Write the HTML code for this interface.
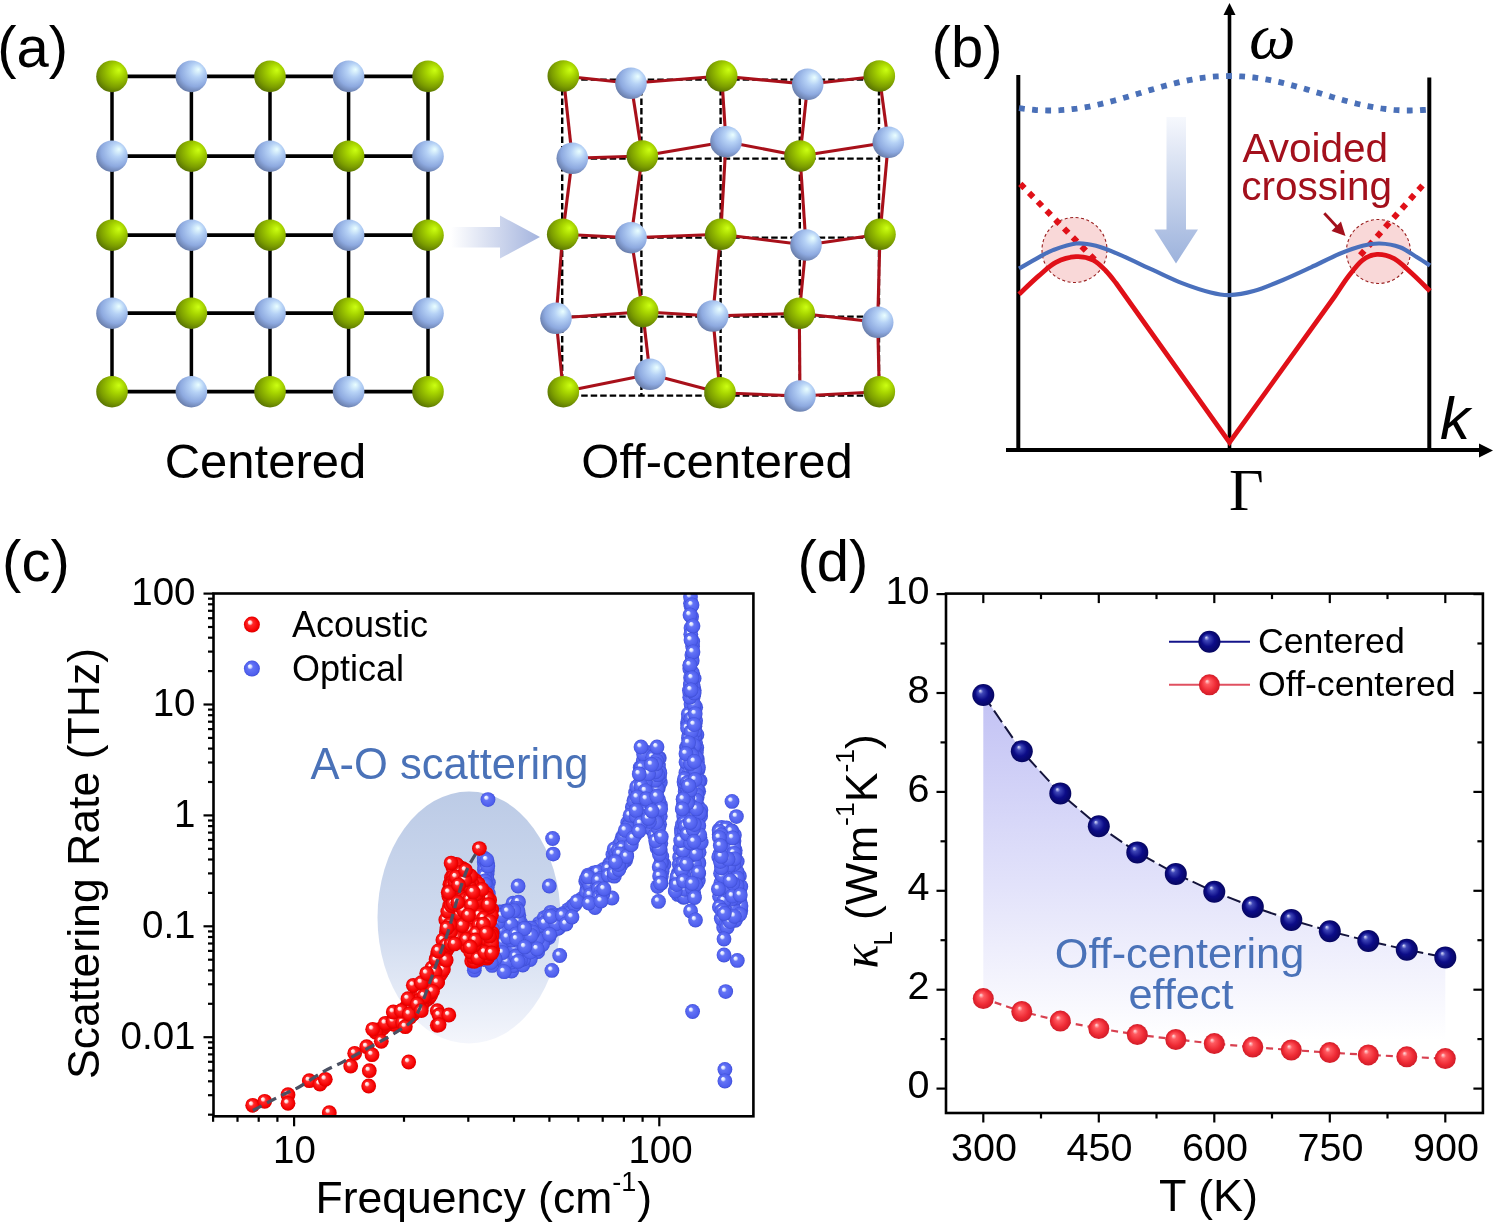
<!DOCTYPE html>
<html><head><meta charset="utf-8"><title>Figure</title>
<style>html,body{margin:0;padding:0;background:#fff;}body{width:1500px;height:1231px;overflow:hidden;}svg{display:block;}</style>
</head><body>
<svg width="1500" height="1231" viewBox="0 0 1500 1231">
<rect width="1500" height="1231" fill="#fff"/>
<defs>
<radialGradient id="gG" cx="0.58" cy="0.38" r="0.72" fx="0.72" fy="0.3">
 <stop offset="0" stop-color="#ccff12"/><stop offset="0.3" stop-color="#a8d600"/><stop offset="0.68" stop-color="#7c9e00"/><stop offset="1" stop-color="#4a6204"/></radialGradient>
<radialGradient id="gB" cx="0.58" cy="0.38" r="0.72" fx="0.72" fy="0.28">
 <stop offset="0" stop-color="#eaffff"/><stop offset="0.3" stop-color="#b6d2f6"/><stop offset="0.66" stop-color="#8eaae0"/><stop offset="1" stop-color="#5a6c96"/></radialGradient>
<radialGradient id="gR" cx="0.5" cy="0.5" r="0.5" fx="0.34" fy="0.32">
 <stop offset="0" stop-color="#ffffff"/><stop offset="0.2" stop-color="#ffd4d4"/><stop offset="0.36" stop-color="#ff2a2a"/><stop offset="0.85" stop-color="#f40000"/><stop offset="1" stop-color="#d80000"/></radialGradient>
<radialGradient id="gU" cx="0.5" cy="0.5" r="0.5" fx="0.34" fy="0.32">
 <stop offset="0" stop-color="#ffffff"/><stop offset="0.2" stop-color="#d8e0ff"/><stop offset="0.36" stop-color="#6474f6"/><stop offset="0.85" stop-color="#4f5fee"/><stop offset="1" stop-color="#3e4ed4"/></radialGradient>
<radialGradient id="gN" cx="0.5" cy="0.5" r="0.5" fx="0.35" fy="0.3">
 <stop offset="0" stop-color="#e0e4ff"/><stop offset="0.22" stop-color="#4048b8"/><stop offset="0.6" stop-color="#0c0c88"/><stop offset="1" stop-color="#060660"/></radialGradient>
<radialGradient id="gP" cx="0.5" cy="0.5" r="0.5" fx="0.38" fy="0.32">
 <stop offset="0" stop-color="#ffe0e0"/><stop offset="0.25" stop-color="#ff5a60"/><stop offset="0.7" stop-color="#ee2a34"/><stop offset="1" stop-color="#d01c28"/></radialGradient>
<linearGradient id="gArrowR" x1="0" y1="0" x2="1" y2="0">
 <stop offset="0" stop-color="#ffffff"/><stop offset="1" stop-color="#a4b4de"/></linearGradient>
<linearGradient id="gArrowD" x1="0" y1="0" x2="0" y2="1">
 <stop offset="0" stop-color="#f6f8fd"/><stop offset="1" stop-color="#9cb2dc"/></linearGradient>
<linearGradient id="gEll" x1="0" y1="0" x2="0" y2="1">
 <stop offset="0" stop-color="#bccbe6"/><stop offset="0.55" stop-color="#d0dbef"/><stop offset="1" stop-color="#f4f6fc"/></linearGradient>
<linearGradient id="gFill" gradientUnits="userSpaceOnUse" x1="0" y1="695" x2="0" y2="1040">
 <stop offset="0" stop-color="#c2c2f4"/><stop offset="0.55" stop-color="#e2e2fa"/><stop offset="1" stop-color="#ffffff"/></linearGradient>
</defs>
<text x="-2.8" y="67.3" font-size="58" fill="#000" text-anchor="start" font-family="'Liberation Sans', Arial, sans-serif" >(a)</text>
<line x1="112" y1="76.4" x2="428" y2="76.4" stroke="#000" stroke-width="3.7"/>
<line x1="112" y1="156.2" x2="428" y2="156.2" stroke="#000" stroke-width="3.7"/>
<line x1="112" y1="235.2" x2="428" y2="235.2" stroke="#000" stroke-width="3.7"/>
<line x1="112" y1="313.2" x2="428" y2="313.2" stroke="#000" stroke-width="3.7"/>
<line x1="112" y1="391.7" x2="428" y2="391.7" stroke="#000" stroke-width="3.7"/>
<line x1="112" y1="76.4" x2="112" y2="391.7" stroke="#000" stroke-width="3.5"/>
<line x1="191.4" y1="76.4" x2="191.4" y2="391.7" stroke="#000" stroke-width="3.5"/>
<line x1="270" y1="76.4" x2="270" y2="391.7" stroke="#000" stroke-width="3.5"/>
<line x1="348.6" y1="76.4" x2="348.6" y2="391.7" stroke="#000" stroke-width="3.5"/>
<line x1="428" y1="76.4" x2="428" y2="391.7" stroke="#000" stroke-width="3.5"/>
<circle cx="112" cy="76.4" r="15.8" fill="url(#gG)"/>
<circle cx="191.4" cy="76.4" r="15.8" fill="url(#gB)"/>
<circle cx="270" cy="76.4" r="15.8" fill="url(#gG)"/>
<circle cx="348.6" cy="76.4" r="15.8" fill="url(#gB)"/>
<circle cx="428" cy="76.4" r="15.8" fill="url(#gG)"/>
<circle cx="112" cy="156.2" r="15.8" fill="url(#gB)"/>
<circle cx="191.4" cy="156.2" r="15.8" fill="url(#gG)"/>
<circle cx="270" cy="156.2" r="15.8" fill="url(#gB)"/>
<circle cx="348.6" cy="156.2" r="15.8" fill="url(#gG)"/>
<circle cx="428" cy="156.2" r="15.8" fill="url(#gB)"/>
<circle cx="112" cy="235.2" r="15.8" fill="url(#gG)"/>
<circle cx="191.4" cy="235.2" r="15.8" fill="url(#gB)"/>
<circle cx="270" cy="235.2" r="15.8" fill="url(#gG)"/>
<circle cx="348.6" cy="235.2" r="15.8" fill="url(#gB)"/>
<circle cx="428" cy="235.2" r="15.8" fill="url(#gG)"/>
<circle cx="112" cy="313.2" r="15.8" fill="url(#gB)"/>
<circle cx="191.4" cy="313.2" r="15.8" fill="url(#gG)"/>
<circle cx="270" cy="313.2" r="15.8" fill="url(#gB)"/>
<circle cx="348.6" cy="313.2" r="15.8" fill="url(#gG)"/>
<circle cx="428" cy="313.2" r="15.8" fill="url(#gB)"/>
<circle cx="112" cy="391.7" r="15.8" fill="url(#gG)"/>
<circle cx="191.4" cy="391.7" r="15.8" fill="url(#gB)"/>
<circle cx="270" cy="391.7" r="15.8" fill="url(#gG)"/>
<circle cx="348.6" cy="391.7" r="15.8" fill="url(#gB)"/>
<circle cx="428" cy="391.7" r="15.8" fill="url(#gG)"/>
<text x="265.5" y="477.5" font-size="49" fill="#000" text-anchor="middle" font-family="'Liberation Sans', Arial, sans-serif" >Centered</text>
<path d="M451,227 L500,227 L500,215.5 L540,237 L500,258.5 L500,247.5 L451,247.5 Z" fill="url(#gArrowR)"/>
<line x1="562.2" y1="79.6" x2="879" y2="79.6" stroke="#000" stroke-width="2.4" stroke-dasharray="6.5,3"/>
<line x1="562.2" y1="158.6" x2="879" y2="158.6" stroke="#000" stroke-width="2.4" stroke-dasharray="6.5,3"/>
<line x1="562.2" y1="237.6" x2="879" y2="237.6" stroke="#000" stroke-width="2.4" stroke-dasharray="6.5,3"/>
<line x1="562.2" y1="316.6" x2="879" y2="316.6" stroke="#000" stroke-width="2.4" stroke-dasharray="6.5,3"/>
<line x1="562.2" y1="395.6" x2="879" y2="395.6" stroke="#000" stroke-width="2.4" stroke-dasharray="6.5,3"/>
<line x1="562.2" y1="79.6" x2="562.2" y2="395.6" stroke="#000" stroke-width="2.4" stroke-dasharray="6.5,3"/>
<line x1="641.4" y1="79.6" x2="641.4" y2="395.6" stroke="#000" stroke-width="2.4" stroke-dasharray="6.5,3"/>
<line x1="720.6" y1="79.6" x2="720.6" y2="395.6" stroke="#000" stroke-width="2.4" stroke-dasharray="6.5,3"/>
<line x1="799.8" y1="79.6" x2="799.8" y2="395.6" stroke="#000" stroke-width="2.4" stroke-dasharray="6.5,3"/>
<line x1="879" y1="79.6" x2="879" y2="395.6" stroke="#000" stroke-width="2.4" stroke-dasharray="6.5,3"/>
<line x1="563.3" y1="76" x2="631" y2="83.3" stroke="#a8101a" stroke-width="3.1"/>
<line x1="631" y1="83.3" x2="721.7" y2="76" stroke="#a8101a" stroke-width="3.1"/>
<line x1="721.7" y1="76" x2="807.7" y2="84.3" stroke="#a8101a" stroke-width="3.1"/>
<line x1="807.7" y1="84.3" x2="879.3" y2="76" stroke="#a8101a" stroke-width="3.1"/>
<line x1="572.3" y1="158.3" x2="642.3" y2="156" stroke="#a8101a" stroke-width="3.1"/>
<line x1="642.3" y1="156" x2="726" y2="141.7" stroke="#a8101a" stroke-width="3.1"/>
<line x1="726" y1="141.7" x2="800" y2="156" stroke="#a8101a" stroke-width="3.1"/>
<line x1="800" y1="156" x2="888.3" y2="142.3" stroke="#a8101a" stroke-width="3.1"/>
<line x1="562.7" y1="234.3" x2="631" y2="237.7" stroke="#a8101a" stroke-width="3.1"/>
<line x1="631" y1="237.7" x2="720.7" y2="234.3" stroke="#a8101a" stroke-width="3.1"/>
<line x1="720.7" y1="234.3" x2="806" y2="245" stroke="#a8101a" stroke-width="3.1"/>
<line x1="806" y1="245" x2="880" y2="234.3" stroke="#a8101a" stroke-width="3.1"/>
<line x1="556" y1="318.3" x2="642.7" y2="311.7" stroke="#a8101a" stroke-width="3.1"/>
<line x1="642.7" y1="311.7" x2="712.7" y2="316" stroke="#a8101a" stroke-width="3.1"/>
<line x1="712.7" y1="316" x2="799.3" y2="313.3" stroke="#a8101a" stroke-width="3.1"/>
<line x1="799.3" y1="313.3" x2="877.7" y2="322.3" stroke="#a8101a" stroke-width="3.1"/>
<line x1="563.3" y1="391.7" x2="650" y2="374.3" stroke="#a8101a" stroke-width="3.1"/>
<line x1="650" y1="374.3" x2="720" y2="392.7" stroke="#a8101a" stroke-width="3.1"/>
<line x1="720" y1="392.7" x2="800" y2="396" stroke="#a8101a" stroke-width="3.1"/>
<line x1="800" y1="396" x2="879.3" y2="391.7" stroke="#a8101a" stroke-width="3.1"/>
<line x1="563.3" y1="76" x2="572.3" y2="158.3" stroke="#a8101a" stroke-width="3.1"/>
<line x1="631" y1="83.3" x2="642.3" y2="156" stroke="#a8101a" stroke-width="3.1"/>
<line x1="721.7" y1="76" x2="726" y2="141.7" stroke="#a8101a" stroke-width="3.1"/>
<line x1="807.7" y1="84.3" x2="800" y2="156" stroke="#a8101a" stroke-width="3.1"/>
<line x1="879.3" y1="76" x2="888.3" y2="142.3" stroke="#a8101a" stroke-width="3.1"/>
<line x1="572.3" y1="158.3" x2="562.7" y2="234.3" stroke="#a8101a" stroke-width="3.1"/>
<line x1="642.3" y1="156" x2="631" y2="237.7" stroke="#a8101a" stroke-width="3.1"/>
<line x1="726" y1="141.7" x2="720.7" y2="234.3" stroke="#a8101a" stroke-width="3.1"/>
<line x1="800" y1="156" x2="806" y2="245" stroke="#a8101a" stroke-width="3.1"/>
<line x1="888.3" y1="142.3" x2="880" y2="234.3" stroke="#a8101a" stroke-width="3.1"/>
<line x1="562.7" y1="234.3" x2="556" y2="318.3" stroke="#a8101a" stroke-width="3.1"/>
<line x1="631" y1="237.7" x2="642.7" y2="311.7" stroke="#a8101a" stroke-width="3.1"/>
<line x1="720.7" y1="234.3" x2="712.7" y2="316" stroke="#a8101a" stroke-width="3.1"/>
<line x1="806" y1="245" x2="799.3" y2="313.3" stroke="#a8101a" stroke-width="3.1"/>
<line x1="880" y1="234.3" x2="877.7" y2="322.3" stroke="#a8101a" stroke-width="3.1"/>
<line x1="556" y1="318.3" x2="563.3" y2="391.7" stroke="#a8101a" stroke-width="3.1"/>
<line x1="642.7" y1="311.7" x2="650" y2="374.3" stroke="#a8101a" stroke-width="3.1"/>
<line x1="712.7" y1="316" x2="720" y2="392.7" stroke="#a8101a" stroke-width="3.1"/>
<line x1="799.3" y1="313.3" x2="800" y2="396" stroke="#a8101a" stroke-width="3.1"/>
<line x1="877.7" y1="322.3" x2="879.3" y2="391.7" stroke="#a8101a" stroke-width="3.1"/>
<circle cx="563.3" cy="76" r="15.8" fill="url(#gG)"/>
<circle cx="631" cy="83.3" r="15.8" fill="url(#gB)"/>
<circle cx="721.7" cy="76" r="15.8" fill="url(#gG)"/>
<circle cx="807.7" cy="84.3" r="15.8" fill="url(#gB)"/>
<circle cx="879.3" cy="76" r="15.8" fill="url(#gG)"/>
<circle cx="572.3" cy="158.3" r="15.8" fill="url(#gB)"/>
<circle cx="642.3" cy="156" r="15.8" fill="url(#gG)"/>
<circle cx="726" cy="141.7" r="15.8" fill="url(#gB)"/>
<circle cx="800" cy="156" r="15.8" fill="url(#gG)"/>
<circle cx="888.3" cy="142.3" r="15.8" fill="url(#gB)"/>
<circle cx="562.7" cy="234.3" r="15.8" fill="url(#gG)"/>
<circle cx="631" cy="237.7" r="15.8" fill="url(#gB)"/>
<circle cx="720.7" cy="234.3" r="15.8" fill="url(#gG)"/>
<circle cx="806" cy="245" r="15.8" fill="url(#gB)"/>
<circle cx="880" cy="234.3" r="15.8" fill="url(#gG)"/>
<circle cx="556" cy="318.3" r="15.8" fill="url(#gB)"/>
<circle cx="642.7" cy="311.7" r="15.8" fill="url(#gG)"/>
<circle cx="712.7" cy="316" r="15.8" fill="url(#gB)"/>
<circle cx="799.3" cy="313.3" r="15.8" fill="url(#gG)"/>
<circle cx="877.7" cy="322.3" r="15.8" fill="url(#gB)"/>
<circle cx="563.3" cy="391.7" r="15.8" fill="url(#gG)"/>
<circle cx="650" cy="374.3" r="15.8" fill="url(#gB)"/>
<circle cx="720" cy="392.7" r="15.8" fill="url(#gG)"/>
<circle cx="800" cy="396" r="15.8" fill="url(#gB)"/>
<circle cx="879.3" cy="391.7" r="15.8" fill="url(#gG)"/>
<text x="717" y="477.5" font-size="49" fill="#000" text-anchor="middle" font-family="'Liberation Sans', Arial, sans-serif" >Off-centered</text>
<text x="931.6" y="67.3" font-size="58" fill="#000" text-anchor="start" font-family="'Liberation Sans', Arial, sans-serif" >(b)</text>
<line x1="1018.3" y1="75" x2="1018.3" y2="450" stroke="#000" stroke-width="4"/>
<line x1="1429.3" y1="77.5" x2="1429.3" y2="450" stroke="#000" stroke-width="4"/>
<line x1="1229.5" y1="13" x2="1229.5" y2="450" stroke="#000" stroke-width="3.6"/>
<path d="M1229.5,3 L1223.5,15 L1235.5,15 Z" fill="#000"/>
<line x1="1006" y1="450" x2="1482" y2="450" stroke="#000" stroke-width="4.2"/>
<path d="M1493,450.5 L1479,443.5 L1479,457.5 Z" fill="#000"/>
<path d="M1019,108.1 L1023.1,108.7 L1027.2,109.2 L1031.4,109.6 L1035.5,110 L1039.6,110.2 L1043.7,110.4 L1047.8,110.5 L1052,110.5 L1056.1,110.4 L1060.2,110.2 L1064.3,109.9 L1068.4,109.6 L1072.6,109.1 L1076.7,108.6 L1080.8,108 L1084.9,107.3 L1089,106.6 L1093.2,105.7 L1097.3,104.8 L1101.4,103.9 L1105.5,102.9 L1109.6,101.8 L1113.8,100.7 L1117.9,99.6 L1122,98.4 L1126.1,97.2 L1130.2,96 L1134.4,94.8 L1138.5,93.6 L1142.6,92.3 L1146.7,91.1 L1150.8,89.9 L1155,88.7 L1159.1,87.5 L1163.2,86.3 L1167.3,85.2 L1171.4,84.1 L1175.6,83.1 L1179.7,82.1 L1183.8,81.2 L1187.9,80.3 L1192,79.6 L1196.2,78.8 L1200.3,78.2 L1204.4,77.6 L1208.5,77.1 L1212.6,76.7 L1216.8,76.4 L1220.9,76.2 L1225,76.1 L1229.1,76 L1233.2,76 L1237.4,76.2 L1241.5,76.4 L1245.6,76.7 L1249.7,77.1 L1253.8,77.5 L1258,78.1 L1262.1,78.7 L1266.2,79.4 L1270.3,80.2 L1274.4,81 L1278.6,81.9 L1282.7,82.9 L1286.8,83.9 L1290.9,85 L1295,86.1 L1299.2,87.3 L1303.3,88.4 L1307.4,89.6 L1311.5,90.9 L1315.6,92.1 L1319.8,93.3 L1323.9,94.6 L1328,95.8 L1332.1,97 L1336.2,98.2 L1340.4,99.4 L1344.5,100.5 L1348.6,101.6 L1352.7,102.7 L1356.8,103.7 L1361,104.7 L1365.1,105.6 L1369.2,106.4 L1373.3,107.2 L1377.4,107.9 L1381.6,108.5 L1385.7,109 L1389.8,109.5 L1393.9,109.9 L1398,110.2 L1402.2,110.4 L1406.3,110.5 L1410.4,110.5 L1414.5,110.4 L1418.6,110.3 L1422.8,110 L1426.9,109.7 L1431,109.3" fill="none" stroke="#4a70b8" stroke-width="5.8" stroke-dasharray="5.8,7.4"/>
<circle cx="1074.5" cy="250" r="32.5" fill="#f4b8b8" fill-opacity="0.55" stroke="#9a2020" stroke-width="1.1" stroke-dasharray="3,2.5"/>
<circle cx="1378.4" cy="251.5" r="32" fill="#f4b8b8" fill-opacity="0.55" stroke="#9a2020" stroke-width="1.1" stroke-dasharray="3,2.5"/>
<path d="M1020.3,183.9 L1097,262" fill="none" stroke="#e01018" stroke-width="6" stroke-dasharray="6,6.5"/>
<path d="M1422.5,185.5 L1357,259" fill="none" stroke="#e01018" stroke-width="6" stroke-dasharray="6,6.5"/>
<path d="M1019,268.6 C1022.3,266.7 1033,260.4 1038.7,257.3 C1044.4,254.2 1046.8,252.4 1053,250.1 C1059.2,247.8 1068.8,244.2 1076,243.5 C1083.2,242.8 1088.8,244 1096,245.8 C1103.2,247.6 1109.5,250.3 1119,254.4 C1128.5,258.5 1142.8,265.4 1153.3,270.2 C1163.8,275 1172.4,279.4 1182,283.1 C1191.6,286.8 1202.8,290.5 1210.7,292.5 C1218.6,294.5 1222.1,295.3 1229.3,295.1 C1236.5,294.9 1244.8,293.6 1253.7,291.1 C1262.6,288.6 1272.9,284.2 1282.4,280.2 C1292,276.2 1301.5,271.7 1311,267.3 C1320.5,262.9 1331.1,257.4 1339.7,253.8 C1348.3,250.2 1355.9,247.5 1362.6,245.8 C1369.3,244.1 1373.6,243.3 1379.8,243.5 C1386,243.7 1393.8,244.9 1400,247.2 C1406.2,249.5 1412,254.2 1417,257.3 C1422,260.4 1427.8,264.1 1430,265.5" fill="none" stroke="#4a70bc" stroke-width="4.2"/>
<path d="M1019,294.3 C1022.3,291.2 1032.5,281.2 1038.7,275.9 C1044.9,270.6 1049.7,265.6 1055.9,262.4 C1062.1,259.2 1069.8,257.1 1076,256.7 C1082.2,256.3 1088.1,257.7 1093.1,260.1 C1098.1,262.5 1102.2,267.2 1106,271 C1109.8,274.8 1114.3,281 1116,283 L1229.5,442.5 L1335,296  C1337.2,292.8 1343.7,282.5 1348.3,276.5 C1352.9,270.5 1357.8,263.8 1362.6,260.1 C1367.4,256.4 1371.7,254.6 1377,254.4 C1382.3,254.2 1388.5,255.6 1394.2,258.7 C1399.9,261.8 1405.4,267.6 1411.4,273 C1417.4,278.4 1426.9,288 1430,291" fill="none" stroke="#e01018" stroke-width="4.8" stroke-linejoin="miter" stroke-miterlimit="10"/>
<path d="M1166.5,117 L1186,117 L1186,229.5 L1198,229.5 L1176,263.5 L1154.3,229.5 L1166.5,229.5 Z" fill="url(#gArrowD)"/>
<text x="1242.5" y="162.4" font-size="40.5" fill="#a3101c" text-anchor="start" font-family="'Liberation Sans', Arial, sans-serif" >Avoided</text>
<text x="1241.2" y="200.4" font-size="40.5" fill="#a3101c" text-anchor="start" font-family="'Liberation Sans', Arial, sans-serif" >crossing</text>
<line x1="1324.3" y1="213.2" x2="1338" y2="228" stroke="#a3101c" stroke-width="2.8"/>
<path d="M1345.5,236 L1331.5,231 L1341,221.5 Z" fill="#a3101c"/>
<text x="1249" y="58" font-size="66" fill="#000" text-anchor="start" font-family="'Liberation Serif', 'Times New Roman', serif" font-style="italic">&#969;</text>
<text x="1440" y="438.5" font-size="60" fill="#000" text-anchor="start" font-family="'Liberation Sans', Arial, sans-serif" font-style="italic">k</text>
<text x="1229" y="509.5" font-size="60" fill="#000" text-anchor="start" font-family="'Liberation Serif', 'Times New Roman', serif" >&#915;</text>
<text x="2.1" y="580.5" font-size="58" fill="#000" text-anchor="start" font-family="'Liberation Sans', Arial, sans-serif" >(c)</text>
<ellipse cx="469" cy="917.5" rx="91.5" ry="126" fill="url(#gEll)"/>
<clipPath id="clipC"><rect x="213.5" y="593.5" width="539.9" height="522.8"/></clipPath>
<g clip-path="url(#clipC)">
<g id="blueData">
<circle cx="488.7" cy="945.7" r="7.4" fill="url(#gU)"/>
<circle cx="558.1" cy="915.3" r="7.4" fill="url(#gU)"/>
<circle cx="555.0" cy="919.2" r="7.4" fill="url(#gU)"/>
<circle cx="598.1" cy="872.1" r="7.4" fill="url(#gU)"/>
<circle cx="611.1" cy="869.6" r="7.4" fill="url(#gU)"/>
<circle cx="485.8" cy="913.3" r="7.4" fill="url(#gU)"/>
<circle cx="504.9" cy="931.7" r="7.4" fill="url(#gU)"/>
<circle cx="495.2" cy="915.9" r="7.4" fill="url(#gU)"/>
<circle cx="523.3" cy="959.3" r="7.4" fill="url(#gU)"/>
<circle cx="513.4" cy="908.2" r="7.4" fill="url(#gU)"/>
<circle cx="505.8" cy="971.0" r="7.4" fill="url(#gU)"/>
<circle cx="512.6" cy="926.8" r="7.4" fill="url(#gU)"/>
<circle cx="515.6" cy="948.3" r="7.4" fill="url(#gU)"/>
<circle cx="502.4" cy="929.7" r="7.4" fill="url(#gU)"/>
<circle cx="622.6" cy="836.7" r="7.4" fill="url(#gU)"/>
<circle cx="552.1" cy="931.5" r="7.4" fill="url(#gU)"/>
<circle cx="541.6" cy="942.3" r="7.4" fill="url(#gU)"/>
<circle cx="568.4" cy="909.6" r="7.4" fill="url(#gU)"/>
<circle cx="487.6" cy="935.0" r="7.4" fill="url(#gU)"/>
<circle cx="587.1" cy="889.5" r="7.4" fill="url(#gU)"/>
<circle cx="616.6" cy="869.2" r="7.4" fill="url(#gU)"/>
<circle cx="525.1" cy="951.0" r="7.4" fill="url(#gU)"/>
<circle cx="524.1" cy="942.5" r="7.4" fill="url(#gU)"/>
<circle cx="587.0" cy="893.7" r="7.4" fill="url(#gU)"/>
<circle cx="537.7" cy="942.5" r="7.4" fill="url(#gU)"/>
<circle cx="508.6" cy="962.0" r="7.4" fill="url(#gU)"/>
<circle cx="612.6" cy="862.7" r="7.4" fill="url(#gU)"/>
<circle cx="528.3" cy="941.8" r="7.4" fill="url(#gU)"/>
<circle cx="521.0" cy="931.2" r="7.4" fill="url(#gU)"/>
<circle cx="507.7" cy="953.1" r="7.4" fill="url(#gU)"/>
<circle cx="505.0" cy="911.2" r="7.4" fill="url(#gU)"/>
<circle cx="491.0" cy="931.6" r="7.4" fill="url(#gU)"/>
<circle cx="507.1" cy="913.6" r="7.4" fill="url(#gU)"/>
<circle cx="620.2" cy="856.9" r="7.4" fill="url(#gU)"/>
<circle cx="512.8" cy="930.8" r="7.4" fill="url(#gU)"/>
<circle cx="539.3" cy="923.3" r="7.4" fill="url(#gU)"/>
<circle cx="555.5" cy="923.4" r="7.4" fill="url(#gU)"/>
<circle cx="548.9" cy="937.6" r="7.4" fill="url(#gU)"/>
<circle cx="593.8" cy="873.0" r="7.4" fill="url(#gU)"/>
<circle cx="515.8" cy="964.0" r="7.4" fill="url(#gU)"/>
<circle cx="606.0" cy="873.0" r="7.4" fill="url(#gU)"/>
<circle cx="511.6" cy="970.0" r="7.4" fill="url(#gU)"/>
<circle cx="499.4" cy="935.8" r="7.4" fill="url(#gU)"/>
<circle cx="591.1" cy="884.3" r="7.4" fill="url(#gU)"/>
<circle cx="545.7" cy="920.2" r="7.4" fill="url(#gU)"/>
<circle cx="600.0" cy="895.5" r="7.4" fill="url(#gU)"/>
<circle cx="492.4" cy="960.7" r="7.4" fill="url(#gU)"/>
<circle cx="488.0" cy="921.7" r="7.4" fill="url(#gU)"/>
<circle cx="563.2" cy="913.6" r="7.4" fill="url(#gU)"/>
<circle cx="489.7" cy="957.5" r="7.4" fill="url(#gU)"/>
<circle cx="508.5" cy="919.2" r="7.4" fill="url(#gU)"/>
<circle cx="532.0" cy="930.7" r="7.4" fill="url(#gU)"/>
<circle cx="502.6" cy="936.6" r="7.4" fill="url(#gU)"/>
<circle cx="616.7" cy="850.7" r="7.4" fill="url(#gU)"/>
<circle cx="509.7" cy="937.8" r="7.4" fill="url(#gU)"/>
<circle cx="558.9" cy="927.8" r="7.4" fill="url(#gU)"/>
<circle cx="604.0" cy="875.9" r="7.4" fill="url(#gU)"/>
<circle cx="516.2" cy="959.7" r="7.4" fill="url(#gU)"/>
<circle cx="622.1" cy="861.6" r="7.4" fill="url(#gU)"/>
<circle cx="603.8" cy="869.3" r="7.4" fill="url(#gU)"/>
<circle cx="534.2" cy="943.4" r="7.4" fill="url(#gU)"/>
<circle cx="498.4" cy="938.7" r="7.4" fill="url(#gU)"/>
<circle cx="612.9" cy="854.6" r="7.4" fill="url(#gU)"/>
<circle cx="499.5" cy="949.8" r="7.4" fill="url(#gU)"/>
<circle cx="549.7" cy="928.7" r="7.4" fill="url(#gU)"/>
<circle cx="556.9" cy="916.5" r="7.4" fill="url(#gU)"/>
<circle cx="497.0" cy="928.4" r="7.4" fill="url(#gU)"/>
<circle cx="496.0" cy="962.7" r="7.4" fill="url(#gU)"/>
<circle cx="493.9" cy="948.4" r="7.4" fill="url(#gU)"/>
<circle cx="520.7" cy="961.5" r="7.4" fill="url(#gU)"/>
<circle cx="513.0" cy="903.2" r="7.4" fill="url(#gU)"/>
<circle cx="509.9" cy="934.4" r="7.4" fill="url(#gU)"/>
<circle cx="490.0" cy="942.6" r="7.4" fill="url(#gU)"/>
<circle cx="609.7" cy="863.7" r="7.4" fill="url(#gU)"/>
<circle cx="505.0" cy="958.4" r="7.4" fill="url(#gU)"/>
<circle cx="518.8" cy="915.2" r="7.4" fill="url(#gU)"/>
<circle cx="514.6" cy="944.6" r="7.4" fill="url(#gU)"/>
<circle cx="504.2" cy="961.5" r="7.4" fill="url(#gU)"/>
<circle cx="628.1" cy="831.3" r="7.4" fill="url(#gU)"/>
<circle cx="545.4" cy="939.1" r="7.4" fill="url(#gU)"/>
<circle cx="516.9" cy="906.0" r="7.4" fill="url(#gU)"/>
<circle cx="488.3" cy="947.7" r="7.4" fill="url(#gU)"/>
<circle cx="499.9" cy="924.3" r="7.4" fill="url(#gU)"/>
<circle cx="547.8" cy="934.1" r="7.4" fill="url(#gU)"/>
<circle cx="537.7" cy="951.7" r="7.4" fill="url(#gU)"/>
<circle cx="535.7" cy="940.6" r="7.4" fill="url(#gU)"/>
<circle cx="526.7" cy="938.7" r="7.4" fill="url(#gU)"/>
<circle cx="519.4" cy="928.3" r="7.4" fill="url(#gU)"/>
<circle cx="509.0" cy="924.1" r="7.4" fill="url(#gU)"/>
<circle cx="501.0" cy="919.7" r="7.4" fill="url(#gU)"/>
<circle cx="516.4" cy="920.3" r="7.4" fill="url(#gU)"/>
<circle cx="518.7" cy="949.3" r="7.4" fill="url(#gU)"/>
<circle cx="616.5" cy="868.7" r="7.4" fill="url(#gU)"/>
<circle cx="554.0" cy="917.0" r="7.4" fill="url(#gU)"/>
<circle cx="530.2" cy="959.5" r="7.4" fill="url(#gU)"/>
<circle cx="524.8" cy="928.9" r="7.4" fill="url(#gU)"/>
<circle cx="499.8" cy="911.9" r="7.4" fill="url(#gU)"/>
<circle cx="595.3" cy="896.1" r="7.4" fill="url(#gU)"/>
<circle cx="490.6" cy="926.9" r="7.4" fill="url(#gU)"/>
<circle cx="599.1" cy="886.5" r="7.4" fill="url(#gU)"/>
<circle cx="500.3" cy="955.9" r="7.4" fill="url(#gU)"/>
<circle cx="520.3" cy="931.6" r="7.4" fill="url(#gU)"/>
<circle cx="586.4" cy="898.3" r="7.4" fill="url(#gU)"/>
<circle cx="625.2" cy="845.2" r="7.4" fill="url(#gU)"/>
<circle cx="618.6" cy="855.7" r="7.4" fill="url(#gU)"/>
<circle cx="506.8" cy="956.1" r="7.4" fill="url(#gU)"/>
<circle cx="532.1" cy="935.6" r="7.4" fill="url(#gU)"/>
<circle cx="538.7" cy="944.6" r="7.4" fill="url(#gU)"/>
<circle cx="620.6" cy="857.9" r="7.4" fill="url(#gU)"/>
<circle cx="526.0" cy="935.7" r="7.4" fill="url(#gU)"/>
<circle cx="585.8" cy="881.6" r="7.4" fill="url(#gU)"/>
<circle cx="601.5" cy="888.3" r="7.4" fill="url(#gU)"/>
<circle cx="507.5" cy="913.3" r="7.4" fill="url(#gU)"/>
<circle cx="505.9" cy="920.3" r="7.4" fill="url(#gU)"/>
<circle cx="520.1" cy="957.1" r="7.4" fill="url(#gU)"/>
<circle cx="520.4" cy="953.8" r="7.4" fill="url(#gU)"/>
<circle cx="521.5" cy="925.1" r="7.4" fill="url(#gU)"/>
<circle cx="619.0" cy="845.3" r="7.4" fill="url(#gU)"/>
<circle cx="490.1" cy="961.4" r="7.4" fill="url(#gU)"/>
<circle cx="534.7" cy="930.2" r="7.4" fill="url(#gU)"/>
<circle cx="501.0" cy="916.8" r="7.4" fill="url(#gU)"/>
<circle cx="492.1" cy="965.4" r="7.4" fill="url(#gU)"/>
<circle cx="482.0" cy="950.4" r="7.4" fill="url(#gU)"/>
<circle cx="595.4" cy="887.7" r="7.4" fill="url(#gU)"/>
<circle cx="572.7" cy="906.1" r="7.4" fill="url(#gU)"/>
<circle cx="602.9" cy="876.6" r="7.4" fill="url(#gU)"/>
<circle cx="613.3" cy="872.4" r="7.4" fill="url(#gU)"/>
<circle cx="520.3" cy="922.4" r="7.4" fill="url(#gU)"/>
<circle cx="525.4" cy="947.5" r="7.4" fill="url(#gU)"/>
<circle cx="483.2" cy="937.4" r="7.4" fill="url(#gU)"/>
<circle cx="593.4" cy="875.3" r="7.4" fill="url(#gU)"/>
<circle cx="600.6" cy="879.3" r="7.4" fill="url(#gU)"/>
<circle cx="492.8" cy="950.1" r="7.4" fill="url(#gU)"/>
<circle cx="581.9" cy="898.7" r="7.4" fill="url(#gU)"/>
<circle cx="494.0" cy="957.3" r="7.4" fill="url(#gU)"/>
<circle cx="554.0" cy="924.1" r="7.4" fill="url(#gU)"/>
<circle cx="491.0" cy="933.6" r="7.4" fill="url(#gU)"/>
<circle cx="610.5" cy="864.5" r="7.4" fill="url(#gU)"/>
<circle cx="516.3" cy="931.5" r="7.4" fill="url(#gU)"/>
<circle cx="484.4" cy="948.5" r="7.4" fill="url(#gU)"/>
<circle cx="523.7" cy="952.5" r="7.4" fill="url(#gU)"/>
<circle cx="532.8" cy="941.7" r="7.4" fill="url(#gU)"/>
<circle cx="511.6" cy="971.0" r="7.4" fill="url(#gU)"/>
<circle cx="588.2" cy="875.1" r="7.4" fill="url(#gU)"/>
<circle cx="609.0" cy="873.4" r="7.4" fill="url(#gU)"/>
<circle cx="516.5" cy="905.4" r="7.4" fill="url(#gU)"/>
<circle cx="512.0" cy="958.7" r="7.4" fill="url(#gU)"/>
<circle cx="512.6" cy="917.8" r="7.4" fill="url(#gU)"/>
<circle cx="515.3" cy="957.9" r="7.4" fill="url(#gU)"/>
<circle cx="602.0" cy="897.2" r="7.4" fill="url(#gU)"/>
<circle cx="486.7" cy="937.4" r="7.4" fill="url(#gU)"/>
<circle cx="528.8" cy="942.3" r="7.4" fill="url(#gU)"/>
<circle cx="497.0" cy="928.6" r="7.4" fill="url(#gU)"/>
<circle cx="627.2" cy="834.7" r="7.4" fill="url(#gU)"/>
<circle cx="496.0" cy="922.1" r="7.4" fill="url(#gU)"/>
<circle cx="504.9" cy="969.9" r="7.4" fill="url(#gU)"/>
<circle cx="597.6" cy="872.1" r="7.4" fill="url(#gU)"/>
<circle cx="502.0" cy="932.5" r="7.4" fill="url(#gU)"/>
<circle cx="509.6" cy="943.8" r="7.4" fill="url(#gU)"/>
<circle cx="554.9" cy="917.5" r="7.4" fill="url(#gU)"/>
<circle cx="550.6" cy="912.3" r="7.4" fill="url(#gU)"/>
<circle cx="622.0" cy="842.0" r="7.4" fill="url(#gU)"/>
<circle cx="489.7" cy="923.7" r="7.4" fill="url(#gU)"/>
<circle cx="552.1" cy="915.4" r="7.4" fill="url(#gU)"/>
<circle cx="515.3" cy="962.5" r="7.4" fill="url(#gU)"/>
<circle cx="513.5" cy="965.5" r="7.4" fill="url(#gU)"/>
<circle cx="484.4" cy="920.1" r="7.4" fill="url(#gU)"/>
<circle cx="615.2" cy="855.9" r="7.4" fill="url(#gU)"/>
<circle cx="504.1" cy="925.0" r="7.4" fill="url(#gU)"/>
<circle cx="586.5" cy="892.8" r="7.4" fill="url(#gU)"/>
<circle cx="504.3" cy="916.6" r="7.4" fill="url(#gU)"/>
<circle cx="621.7" cy="852.3" r="7.4" fill="url(#gU)"/>
<circle cx="544.1" cy="923.4" r="7.4" fill="url(#gU)"/>
<circle cx="597.5" cy="899.9" r="7.4" fill="url(#gU)"/>
<circle cx="588.4" cy="882.2" r="7.4" fill="url(#gU)"/>
<circle cx="586.5" cy="878.8" r="7.4" fill="url(#gU)"/>
<circle cx="509.8" cy="955.8" r="7.4" fill="url(#gU)"/>
<circle cx="515.7" cy="942.4" r="7.4" fill="url(#gU)"/>
<circle cx="523.2" cy="939.1" r="7.4" fill="url(#gU)"/>
<circle cx="544.5" cy="917.6" r="7.4" fill="url(#gU)"/>
<circle cx="510.6" cy="938.7" r="7.4" fill="url(#gU)"/>
<circle cx="529.4" cy="928.1" r="7.4" fill="url(#gU)"/>
<circle cx="505.9" cy="964.3" r="7.4" fill="url(#gU)"/>
<circle cx="595.0" cy="904.2" r="7.4" fill="url(#gU)"/>
<circle cx="514.8" cy="926.9" r="7.4" fill="url(#gU)"/>
<circle cx="518.5" cy="902.1" r="7.4" fill="url(#gU)"/>
<circle cx="501.1" cy="912.6" r="7.4" fill="url(#gU)"/>
<circle cx="520.8" cy="945.1" r="7.4" fill="url(#gU)"/>
<circle cx="531.1" cy="936.6" r="7.4" fill="url(#gU)"/>
<circle cx="608.2" cy="868.4" r="7.4" fill="url(#gU)"/>
<circle cx="508.2" cy="926.6" r="7.4" fill="url(#gU)"/>
<circle cx="510.1" cy="911.5" r="7.4" fill="url(#gU)"/>
<circle cx="511.1" cy="929.3" r="7.4" fill="url(#gU)"/>
<circle cx="484.1" cy="951.4" r="7.4" fill="url(#gU)"/>
<circle cx="594.6" cy="881.8" r="7.4" fill="url(#gU)"/>
<circle cx="544.6" cy="937.2" r="7.4" fill="url(#gU)"/>
<circle cx="567.6" cy="913.7" r="7.4" fill="url(#gU)"/>
<circle cx="590.2" cy="888.8" r="7.4" fill="url(#gU)"/>
<circle cx="504.7" cy="930.4" r="7.4" fill="url(#gU)"/>
<circle cx="486.7" cy="955.6" r="7.4" fill="url(#gU)"/>
<circle cx="482.4" cy="948.6" r="7.4" fill="url(#gU)"/>
<circle cx="616.1" cy="868.6" r="7.4" fill="url(#gU)"/>
<circle cx="536.1" cy="927.5" r="7.4" fill="url(#gU)"/>
<circle cx="552.0" cy="930.1" r="7.4" fill="url(#gU)"/>
<circle cx="506.9" cy="911.0" r="7.4" fill="url(#gU)"/>
<circle cx="516.7" cy="908.3" r="7.4" fill="url(#gU)"/>
<circle cx="625.6" cy="860.3" r="7.4" fill="url(#gU)"/>
<circle cx="497.3" cy="940.4" r="7.4" fill="url(#gU)"/>
<circle cx="522.8" cy="965.0" r="7.4" fill="url(#gU)"/>
<circle cx="507.8" cy="915.8" r="7.4" fill="url(#gU)"/>
<circle cx="525.9" cy="930.3" r="7.4" fill="url(#gU)"/>
<circle cx="494.8" cy="926.5" r="7.4" fill="url(#gU)"/>
<circle cx="490.3" cy="943.7" r="7.4" fill="url(#gU)"/>
<circle cx="497.0" cy="914.9" r="7.4" fill="url(#gU)"/>
<circle cx="515.2" cy="936.6" r="7.4" fill="url(#gU)"/>
<circle cx="494.4" cy="945.4" r="7.4" fill="url(#gU)"/>
<circle cx="557.5" cy="928.4" r="7.4" fill="url(#gU)"/>
<circle cx="489.1" cy="959.1" r="7.4" fill="url(#gU)"/>
<circle cx="499.7" cy="948.7" r="7.4" fill="url(#gU)"/>
<circle cx="625.8" cy="837.6" r="7.4" fill="url(#gU)"/>
<circle cx="511.5" cy="962.0" r="7.4" fill="url(#gU)"/>
<circle cx="513.1" cy="916.7" r="7.4" fill="url(#gU)"/>
<circle cx="547.7" cy="923.3" r="7.4" fill="url(#gU)"/>
<circle cx="626.0" cy="830.8" r="7.4" fill="url(#gU)"/>
<circle cx="507.0" cy="961.6" r="7.4" fill="url(#gU)"/>
<circle cx="513.8" cy="931.6" r="7.4" fill="url(#gU)"/>
<circle cx="616.4" cy="864.8" r="7.4" fill="url(#gU)"/>
<circle cx="601.2" cy="900.2" r="7.4" fill="url(#gU)"/>
<circle cx="595.7" cy="890.6" r="7.4" fill="url(#gU)"/>
<circle cx="497.4" cy="935.7" r="7.4" fill="url(#gU)"/>
<circle cx="523.7" cy="959.0" r="7.4" fill="url(#gU)"/>
<circle cx="487.1" cy="927.7" r="7.4" fill="url(#gU)"/>
<circle cx="518.3" cy="921.0" r="7.4" fill="url(#gU)"/>
<circle cx="548.5" cy="915.8" r="7.4" fill="url(#gU)"/>
<circle cx="507.9" cy="931.6" r="7.4" fill="url(#gU)"/>
<circle cx="590.1" cy="885.1" r="7.4" fill="url(#gU)"/>
<circle cx="559.1" cy="919.2" r="7.4" fill="url(#gU)"/>
<circle cx="483.9" cy="931.5" r="7.4" fill="url(#gU)"/>
<circle cx="541.3" cy="925.1" r="7.4" fill="url(#gU)"/>
<circle cx="542.5" cy="944.4" r="7.4" fill="url(#gU)"/>
<circle cx="485.3" cy="920.4" r="7.4" fill="url(#gU)"/>
<circle cx="515.0" cy="948.3" r="7.4" fill="url(#gU)"/>
<circle cx="627.7" cy="822.8" r="7.4" fill="url(#gU)"/>
<circle cx="590.2" cy="894.9" r="7.4" fill="url(#gU)"/>
<circle cx="483.8" cy="959.6" r="7.4" fill="url(#gU)"/>
<circle cx="527.3" cy="938.9" r="7.4" fill="url(#gU)"/>
<circle cx="520.5" cy="960.0" r="7.4" fill="url(#gU)"/>
<circle cx="524.8" cy="948.9" r="7.4" fill="url(#gU)"/>
<circle cx="488.5" cy="924.9" r="7.4" fill="url(#gU)"/>
<circle cx="501.5" cy="930.7" r="7.4" fill="url(#gU)"/>
<circle cx="487.5" cy="944.6" r="7.4" fill="url(#gU)"/>
<circle cx="492.6" cy="915.6" r="7.4" fill="url(#gU)"/>
<circle cx="597.8" cy="885.2" r="7.4" fill="url(#gU)"/>
<circle cx="518.0" cy="911.0" r="7.4" fill="url(#gU)"/>
<circle cx="513.9" cy="910.6" r="7.4" fill="url(#gU)"/>
<circle cx="520.9" cy="936.7" r="7.4" fill="url(#gU)"/>
<circle cx="515.8" cy="956.5" r="7.4" fill="url(#gU)"/>
<circle cx="490.2" cy="939.8" r="7.4" fill="url(#gU)"/>
<circle cx="574.8" cy="904.8" r="7.4" fill="url(#gU)"/>
<circle cx="502.9" cy="942.1" r="7.4" fill="url(#gU)"/>
<circle cx="504.0" cy="971.7" r="7.4" fill="url(#gU)"/>
<circle cx="600.8" cy="878.5" r="7.4" fill="url(#gU)"/>
<circle cx="488.7" cy="921.5" r="7.4" fill="url(#gU)"/>
<circle cx="588.0" cy="877.0" r="7.4" fill="url(#gU)"/>
<circle cx="488.4" cy="954.6" r="7.4" fill="url(#gU)"/>
<circle cx="515.2" cy="928.3" r="7.4" fill="url(#gU)"/>
<circle cx="544.8" cy="923.1" r="7.4" fill="url(#gU)"/>
<circle cx="555.9" cy="923.8" r="7.4" fill="url(#gU)"/>
<circle cx="510.8" cy="924.0" r="7.4" fill="url(#gU)"/>
<circle cx="487.8" cy="916.2" r="7.4" fill="url(#gU)"/>
<circle cx="598.3" cy="880.3" r="7.4" fill="url(#gU)"/>
<circle cx="497.9" cy="922.3" r="7.4" fill="url(#gU)"/>
<circle cx="598.5" cy="888.6" r="7.4" fill="url(#gU)"/>
<circle cx="537.4" cy="939.1" r="7.4" fill="url(#gU)"/>
<circle cx="511.8" cy="940.2" r="7.4" fill="url(#gU)"/>
<circle cx="577.0" cy="901.5" r="7.4" fill="url(#gU)"/>
<circle cx="608.4" cy="875.2" r="7.4" fill="url(#gU)"/>
<circle cx="507.3" cy="937.2" r="7.4" fill="url(#gU)"/>
<circle cx="530.4" cy="952.1" r="7.4" fill="url(#gU)"/>
<circle cx="531.3" cy="928.2" r="7.4" fill="url(#gU)"/>
<circle cx="527.4" cy="930.1" r="7.4" fill="url(#gU)"/>
<circle cx="489.3" cy="931.1" r="7.4" fill="url(#gU)"/>
<circle cx="601.2" cy="891.1" r="7.4" fill="url(#gU)"/>
<circle cx="537.1" cy="948.9" r="7.4" fill="url(#gU)"/>
<circle cx="501.8" cy="915.6" r="7.4" fill="url(#gU)"/>
<circle cx="492.3" cy="937.3" r="7.4" fill="url(#gU)"/>
<circle cx="549.5" cy="934.5" r="7.4" fill="url(#gU)"/>
<circle cx="493.0" cy="934.0" r="7.4" fill="url(#gU)"/>
<circle cx="518.0" cy="961.4" r="7.4" fill="url(#gU)"/>
<circle cx="616.3" cy="862.3" r="7.4" fill="url(#gU)"/>
<circle cx="532.8" cy="932.2" r="7.4" fill="url(#gU)"/>
<circle cx="483.0" cy="941.7" r="7.4" fill="url(#gU)"/>
<circle cx="515.9" cy="934.2" r="7.4" fill="url(#gU)"/>
<circle cx="492.0" cy="956.9" r="7.4" fill="url(#gU)"/>
<circle cx="550.7" cy="916.5" r="7.4" fill="url(#gU)"/>
<circle cx="621.8" cy="839.8" r="7.4" fill="url(#gU)"/>
<circle cx="562.6" cy="915.2" r="7.4" fill="url(#gU)"/>
<circle cx="488.0" cy="957.8" r="7.4" fill="url(#gU)"/>
<circle cx="531.2" cy="935.5" r="7.4" fill="url(#gU)"/>
<circle cx="492.4" cy="929.3" r="7.4" fill="url(#gU)"/>
<circle cx="626.5" cy="854.0" r="7.4" fill="url(#gU)"/>
<circle cx="524.5" cy="928.5" r="7.4" fill="url(#gU)"/>
<circle cx="507.8" cy="911.4" r="7.4" fill="url(#gU)"/>
<circle cx="628.3" cy="826.8" r="7.4" fill="url(#gU)"/>
<circle cx="624.2" cy="860.3" r="7.4" fill="url(#gU)"/>
<circle cx="502.3" cy="952.7" r="7.4" fill="url(#gU)"/>
<circle cx="599.0" cy="897.1" r="7.4" fill="url(#gU)"/>
<circle cx="516.6" cy="939.1" r="7.4" fill="url(#gU)"/>
<circle cx="495.0" cy="958.8" r="7.4" fill="url(#gU)"/>
<circle cx="524.7" cy="946.9" r="7.4" fill="url(#gU)"/>
<circle cx="491.1" cy="962.3" r="7.4" fill="url(#gU)"/>
<circle cx="614.2" cy="848.9" r="7.4" fill="url(#gU)"/>
<circle cx="486.0" cy="912.5" r="7.4" fill="url(#gU)"/>
<circle cx="664.0" cy="864.4" r="7.4" fill="url(#gU)"/>
<circle cx="646.8" cy="795.8" r="7.4" fill="url(#gU)"/>
<circle cx="658.3" cy="787.9" r="7.4" fill="url(#gU)"/>
<circle cx="651.3" cy="818.4" r="7.4" fill="url(#gU)"/>
<circle cx="646.4" cy="803.4" r="7.4" fill="url(#gU)"/>
<circle cx="619.5" cy="852.1" r="7.4" fill="url(#gU)"/>
<circle cx="657.1" cy="848.0" r="7.4" fill="url(#gU)"/>
<circle cx="654.4" cy="774.0" r="7.4" fill="url(#gU)"/>
<circle cx="651.7" cy="808.7" r="7.4" fill="url(#gU)"/>
<circle cx="658.1" cy="845.0" r="7.4" fill="url(#gU)"/>
<circle cx="659.6" cy="824.2" r="7.4" fill="url(#gU)"/>
<circle cx="659.5" cy="771.3" r="7.4" fill="url(#gU)"/>
<circle cx="661.9" cy="862.1" r="7.4" fill="url(#gU)"/>
<circle cx="651.7" cy="829.0" r="7.4" fill="url(#gU)"/>
<circle cx="625.9" cy="835.6" r="7.4" fill="url(#gU)"/>
<circle cx="654.5" cy="798.2" r="7.4" fill="url(#gU)"/>
<circle cx="632.8" cy="814.5" r="7.4" fill="url(#gU)"/>
<circle cx="631.4" cy="824.1" r="7.4" fill="url(#gU)"/>
<circle cx="660.3" cy="849.9" r="7.4" fill="url(#gU)"/>
<circle cx="640.2" cy="767.5" r="7.4" fill="url(#gU)"/>
<circle cx="639.1" cy="806.5" r="7.4" fill="url(#gU)"/>
<circle cx="646.0" cy="822.2" r="7.4" fill="url(#gU)"/>
<circle cx="643.7" cy="783.4" r="7.4" fill="url(#gU)"/>
<circle cx="635.6" cy="792.6" r="7.4" fill="url(#gU)"/>
<circle cx="634.0" cy="800.3" r="7.4" fill="url(#gU)"/>
<circle cx="655.0" cy="829.7" r="7.4" fill="url(#gU)"/>
<circle cx="662.1" cy="871.6" r="7.4" fill="url(#gU)"/>
<circle cx="658.4" cy="828.0" r="7.4" fill="url(#gU)"/>
<circle cx="644.2" cy="807.8" r="7.4" fill="url(#gU)"/>
<circle cx="650.0" cy="798.6" r="7.4" fill="url(#gU)"/>
<circle cx="654.6" cy="808.4" r="7.4" fill="url(#gU)"/>
<circle cx="651.2" cy="821.7" r="7.4" fill="url(#gU)"/>
<circle cx="649.4" cy="756.2" r="7.4" fill="url(#gU)"/>
<circle cx="638.6" cy="785.7" r="7.4" fill="url(#gU)"/>
<circle cx="648.1" cy="767.7" r="7.4" fill="url(#gU)"/>
<circle cx="648.3" cy="774.1" r="7.4" fill="url(#gU)"/>
<circle cx="640.5" cy="822.8" r="7.4" fill="url(#gU)"/>
<circle cx="660.3" cy="816.2" r="7.4" fill="url(#gU)"/>
<circle cx="647.5" cy="759.0" r="7.4" fill="url(#gU)"/>
<circle cx="650.3" cy="778.6" r="7.4" fill="url(#gU)"/>
<circle cx="637.4" cy="816.0" r="7.4" fill="url(#gU)"/>
<circle cx="621.1" cy="842.5" r="7.4" fill="url(#gU)"/>
<circle cx="634.1" cy="833.6" r="7.4" fill="url(#gU)"/>
<circle cx="628.7" cy="825.4" r="7.4" fill="url(#gU)"/>
<circle cx="654.3" cy="813.5" r="7.4" fill="url(#gU)"/>
<circle cx="632.4" cy="807.0" r="7.4" fill="url(#gU)"/>
<circle cx="645.4" cy="761.9" r="7.4" fill="url(#gU)"/>
<circle cx="638.0" cy="789.4" r="7.4" fill="url(#gU)"/>
<circle cx="638.4" cy="802.3" r="7.4" fill="url(#gU)"/>
<circle cx="641.4" cy="810.4" r="7.4" fill="url(#gU)"/>
<circle cx="632.9" cy="821.7" r="7.4" fill="url(#gU)"/>
<circle cx="621.3" cy="864.4" r="7.4" fill="url(#gU)"/>
<circle cx="631.7" cy="831.7" r="7.4" fill="url(#gU)"/>
<circle cx="647.5" cy="752.4" r="7.4" fill="url(#gU)"/>
<circle cx="644.7" cy="786.3" r="7.4" fill="url(#gU)"/>
<circle cx="660.3" cy="782.6" r="7.4" fill="url(#gU)"/>
<circle cx="640.3" cy="799.1" r="7.4" fill="url(#gU)"/>
<circle cx="641.4" cy="787.7" r="7.4" fill="url(#gU)"/>
<circle cx="653.2" cy="789.7" r="7.4" fill="url(#gU)"/>
<circle cx="650.8" cy="783.2" r="7.4" fill="url(#gU)"/>
<circle cx="655.4" cy="758.1" r="7.4" fill="url(#gU)"/>
<circle cx="658.2" cy="764.6" r="7.4" fill="url(#gU)"/>
<circle cx="618.2" cy="858.1" r="7.4" fill="url(#gU)"/>
<circle cx="640.0" cy="771.2" r="7.4" fill="url(#gU)"/>
<circle cx="653.7" cy="760.8" r="7.4" fill="url(#gU)"/>
<circle cx="657.7" cy="799.4" r="7.4" fill="url(#gU)"/>
<circle cx="650.5" cy="761.9" r="7.4" fill="url(#gU)"/>
<circle cx="649.1" cy="816.0" r="7.4" fill="url(#gU)"/>
<circle cx="614.3" cy="876.2" r="7.4" fill="url(#gU)"/>
<circle cx="654.3" cy="805.2" r="7.4" fill="url(#gU)"/>
<circle cx="648.5" cy="809.9" r="7.4" fill="url(#gU)"/>
<circle cx="657.3" cy="787.7" r="7.4" fill="url(#gU)"/>
<circle cx="645.5" cy="797.9" r="7.4" fill="url(#gU)"/>
<circle cx="656.3" cy="795.8" r="7.4" fill="url(#gU)"/>
<circle cx="648.4" cy="801.9" r="7.4" fill="url(#gU)"/>
<circle cx="661.8" cy="856.4" r="7.4" fill="url(#gU)"/>
<circle cx="652.3" cy="816.8" r="7.4" fill="url(#gU)"/>
<circle cx="656.4" cy="818.5" r="7.4" fill="url(#gU)"/>
<circle cx="655.2" cy="767.3" r="7.4" fill="url(#gU)"/>
<circle cx="646.5" cy="777.0" r="7.4" fill="url(#gU)"/>
<circle cx="641.5" cy="815.8" r="7.4" fill="url(#gU)"/>
<circle cx="654.3" cy="798.1" r="7.4" fill="url(#gU)"/>
<circle cx="661.3" cy="876.6" r="7.4" fill="url(#gU)"/>
<circle cx="616.4" cy="853.9" r="7.4" fill="url(#gU)"/>
<circle cx="639.8" cy="805.7" r="7.4" fill="url(#gU)"/>
<circle cx="616.0" cy="860.1" r="7.4" fill="url(#gU)"/>
<circle cx="659.6" cy="849.0" r="7.4" fill="url(#gU)"/>
<circle cx="624.6" cy="842.3" r="7.4" fill="url(#gU)"/>
<circle cx="638.1" cy="820.7" r="7.4" fill="url(#gU)"/>
<circle cx="652.8" cy="774.2" r="7.4" fill="url(#gU)"/>
<circle cx="623.0" cy="847.5" r="7.4" fill="url(#gU)"/>
<circle cx="628.2" cy="842.0" r="7.4" fill="url(#gU)"/>
<circle cx="643.1" cy="771.2" r="7.4" fill="url(#gU)"/>
<circle cx="660.8" cy="843.2" r="7.4" fill="url(#gU)"/>
<circle cx="659.3" cy="758.1" r="7.4" fill="url(#gU)"/>
<circle cx="618.3" cy="850.1" r="7.4" fill="url(#gU)"/>
<circle cx="642.1" cy="820.4" r="7.4" fill="url(#gU)"/>
<circle cx="655.7" cy="830.9" r="7.4" fill="url(#gU)"/>
<circle cx="658.4" cy="841.6" r="7.4" fill="url(#gU)"/>
<circle cx="646.9" cy="782.4" r="7.4" fill="url(#gU)"/>
<circle cx="650.6" cy="757.9" r="7.4" fill="url(#gU)"/>
<circle cx="646.7" cy="755.2" r="7.4" fill="url(#gU)"/>
<circle cx="639.5" cy="784.4" r="7.4" fill="url(#gU)"/>
<circle cx="651.4" cy="780.3" r="7.4" fill="url(#gU)"/>
<circle cx="618.3" cy="866.1" r="7.4" fill="url(#gU)"/>
<circle cx="625.5" cy="851.7" r="7.4" fill="url(#gU)"/>
<circle cx="660.9" cy="863.0" r="7.4" fill="url(#gU)"/>
<circle cx="614.1" cy="872.8" r="7.4" fill="url(#gU)"/>
<circle cx="656.6" cy="844.8" r="7.4" fill="url(#gU)"/>
<circle cx="651.4" cy="767.2" r="7.4" fill="url(#gU)"/>
<circle cx="618.9" cy="869.4" r="7.4" fill="url(#gU)"/>
<circle cx="651.4" cy="754.3" r="7.4" fill="url(#gU)"/>
<circle cx="661.2" cy="883.2" r="7.4" fill="url(#gU)"/>
<circle cx="655.5" cy="770.5" r="7.4" fill="url(#gU)"/>
<circle cx="631.2" cy="830.3" r="7.4" fill="url(#gU)"/>
<circle cx="634.9" cy="829.4" r="7.4" fill="url(#gU)"/>
<circle cx="635.2" cy="816.2" r="7.4" fill="url(#gU)"/>
<circle cx="633.8" cy="813.4" r="7.4" fill="url(#gU)"/>
<circle cx="637.1" cy="813.9" r="7.4" fill="url(#gU)"/>
<circle cx="636.7" cy="808.0" r="7.4" fill="url(#gU)"/>
<circle cx="645.5" cy="820.2" r="7.4" fill="url(#gU)"/>
<circle cx="653.6" cy="819.4" r="7.4" fill="url(#gU)"/>
<circle cx="638.6" cy="790.4" r="7.4" fill="url(#gU)"/>
<circle cx="636.5" cy="825.9" r="7.4" fill="url(#gU)"/>
<circle cx="651.4" cy="828.2" r="7.4" fill="url(#gU)"/>
<circle cx="640.6" cy="809.7" r="7.4" fill="url(#gU)"/>
<circle cx="659.4" cy="777.1" r="7.4" fill="url(#gU)"/>
<circle cx="650.8" cy="798.5" r="7.4" fill="url(#gU)"/>
<circle cx="640.7" cy="776.2" r="7.4" fill="url(#gU)"/>
<circle cx="619.5" cy="859.5" r="7.4" fill="url(#gU)"/>
<circle cx="641.5" cy="780.3" r="7.4" fill="url(#gU)"/>
<circle cx="659.2" cy="866.9" r="7.4" fill="url(#gU)"/>
<circle cx="638.1" cy="829.0" r="7.4" fill="url(#gU)"/>
<circle cx="654.8" cy="835.5" r="7.4" fill="url(#gU)"/>
<circle cx="625.9" cy="834.1" r="7.4" fill="url(#gU)"/>
<circle cx="648.8" cy="789.9" r="7.4" fill="url(#gU)"/>
<circle cx="630.9" cy="820.8" r="7.4" fill="url(#gU)"/>
<circle cx="632.9" cy="807.3" r="7.4" fill="url(#gU)"/>
<circle cx="658.3" cy="765.9" r="7.4" fill="url(#gU)"/>
<circle cx="644.9" cy="795.1" r="7.4" fill="url(#gU)"/>
<circle cx="658.3" cy="828.4" r="7.4" fill="url(#gU)"/>
<circle cx="633.6" cy="823.4" r="7.4" fill="url(#gU)"/>
<circle cx="659.4" cy="854.4" r="7.4" fill="url(#gU)"/>
<circle cx="643.3" cy="760.8" r="7.4" fill="url(#gU)"/>
<circle cx="648.1" cy="778.1" r="7.4" fill="url(#gU)"/>
<circle cx="656.7" cy="805.0" r="7.4" fill="url(#gU)"/>
<circle cx="651.6" cy="761.8" r="7.4" fill="url(#gU)"/>
<circle cx="645.1" cy="812.1" r="7.4" fill="url(#gU)"/>
<circle cx="652.3" cy="807.5" r="7.4" fill="url(#gU)"/>
<circle cx="656.4" cy="812.1" r="7.4" fill="url(#gU)"/>
<circle cx="659.5" cy="848.4" r="7.4" fill="url(#gU)"/>
<circle cx="659.6" cy="875.9" r="7.4" fill="url(#gU)"/>
<circle cx="659.9" cy="773.0" r="7.4" fill="url(#gU)"/>
<circle cx="660.5" cy="804.9" r="7.4" fill="url(#gU)"/>
<circle cx="653.0" cy="776.6" r="7.4" fill="url(#gU)"/>
<circle cx="648.0" cy="766.7" r="7.4" fill="url(#gU)"/>
<circle cx="655.3" cy="755.3" r="7.4" fill="url(#gU)"/>
<circle cx="657.2" cy="788.7" r="7.4" fill="url(#gU)"/>
<circle cx="634.2" cy="801.6" r="7.4" fill="url(#gU)"/>
<circle cx="658.4" cy="758.6" r="7.4" fill="url(#gU)"/>
<circle cx="638.2" cy="820.5" r="7.4" fill="url(#gU)"/>
<circle cx="657.7" cy="886.6" r="7.4" fill="url(#gU)"/>
<circle cx="627.0" cy="837.2" r="7.4" fill="url(#gU)"/>
<circle cx="646.8" cy="753.6" r="7.4" fill="url(#gU)"/>
<circle cx="627.7" cy="827.3" r="7.4" fill="url(#gU)"/>
<circle cx="640.7" cy="792.6" r="7.4" fill="url(#gU)"/>
<circle cx="635.7" cy="833.9" r="7.4" fill="url(#gU)"/>
<circle cx="655.3" cy="780.4" r="7.4" fill="url(#gU)"/>
<circle cx="636.8" cy="786.8" r="7.4" fill="url(#gU)"/>
<circle cx="653.8" cy="814.6" r="7.4" fill="url(#gU)"/>
<circle cx="645.3" cy="781.8" r="7.4" fill="url(#gU)"/>
<circle cx="658.6" cy="800.1" r="7.4" fill="url(#gU)"/>
<circle cx="645.0" cy="765.6" r="7.4" fill="url(#gU)"/>
<circle cx="641.0" cy="785.9" r="7.4" fill="url(#gU)"/>
<circle cx="655.7" cy="840.7" r="7.4" fill="url(#gU)"/>
<circle cx="645.4" cy="790.8" r="7.4" fill="url(#gU)"/>
<circle cx="657.6" cy="774.7" r="7.4" fill="url(#gU)"/>
<circle cx="655.5" cy="771.8" r="7.4" fill="url(#gU)"/>
<circle cx="643.6" cy="754.0" r="7.4" fill="url(#gU)"/>
<circle cx="630.1" cy="815.2" r="7.4" fill="url(#gU)"/>
<circle cx="639.7" cy="814.6" r="7.4" fill="url(#gU)"/>
<circle cx="652.9" cy="757.3" r="7.4" fill="url(#gU)"/>
<circle cx="618.4" cy="864.6" r="7.4" fill="url(#gU)"/>
<circle cx="660.5" cy="883.2" r="7.4" fill="url(#gU)"/>
<circle cx="637.2" cy="797.2" r="7.4" fill="url(#gU)"/>
<circle cx="656.1" cy="822.6" r="7.4" fill="url(#gU)"/>
<circle cx="623.9" cy="836.8" r="7.4" fill="url(#gU)"/>
<circle cx="626.9" cy="848.0" r="7.4" fill="url(#gU)"/>
<circle cx="656.6" cy="760.8" r="7.4" fill="url(#gU)"/>
<circle cx="622.3" cy="847.9" r="7.4" fill="url(#gU)"/>
<circle cx="641.6" cy="767.4" r="7.4" fill="url(#gU)"/>
<circle cx="649.5" cy="821.6" r="7.4" fill="url(#gU)"/>
<circle cx="636.2" cy="816.3" r="7.4" fill="url(#gU)"/>
<circle cx="632.0" cy="834.1" r="7.4" fill="url(#gU)"/>
<circle cx="636.1" cy="810.4" r="7.4" fill="url(#gU)"/>
<circle cx="648.6" cy="773.8" r="7.4" fill="url(#gU)"/>
<circle cx="625.3" cy="853.3" r="7.4" fill="url(#gU)"/>
<circle cx="655.6" cy="763.9" r="7.4" fill="url(#gU)"/>
<circle cx="639.2" cy="774.0" r="7.4" fill="url(#gU)"/>
<circle cx="619.7" cy="853.8" r="7.4" fill="url(#gU)"/>
<circle cx="646.3" cy="799.0" r="7.4" fill="url(#gU)"/>
<circle cx="626.7" cy="856.4" r="7.4" fill="url(#gU)"/>
<circle cx="615.5" cy="862.0" r="7.4" fill="url(#gU)"/>
<circle cx="656.9" cy="796.4" r="7.4" fill="url(#gU)"/>
<circle cx="631.3" cy="844.7" r="7.4" fill="url(#gU)"/>
<circle cx="625.3" cy="830.2" r="7.4" fill="url(#gU)"/>
<circle cx="640.6" cy="823.5" r="7.4" fill="url(#gU)"/>
<circle cx="651.5" cy="764.6" r="7.4" fill="url(#gU)"/>
<circle cx="660.7" cy="809.1" r="7.4" fill="url(#gU)"/>
<circle cx="648.4" cy="818.4" r="7.4" fill="url(#gU)"/>
<circle cx="652.0" cy="811.0" r="7.4" fill="url(#gU)"/>
<circle cx="661.3" cy="836.8" r="7.4" fill="url(#gU)"/>
<circle cx="633.2" cy="838.0" r="7.4" fill="url(#gU)"/>
<circle cx="689.9" cy="730.4" r="7.4" fill="url(#gU)"/>
<circle cx="690.0" cy="694.0" r="7.4" fill="url(#gU)"/>
<circle cx="680.9" cy="870.1" r="7.4" fill="url(#gU)"/>
<circle cx="694.7" cy="722.9" r="7.4" fill="url(#gU)"/>
<circle cx="685.3" cy="851.9" r="7.4" fill="url(#gU)"/>
<circle cx="699.0" cy="814.3" r="7.4" fill="url(#gU)"/>
<circle cx="697.1" cy="797.4" r="7.4" fill="url(#gU)"/>
<circle cx="676.3" cy="883.3" r="7.4" fill="url(#gU)"/>
<circle cx="692.7" cy="783.9" r="7.4" fill="url(#gU)"/>
<circle cx="695.5" cy="785.3" r="7.4" fill="url(#gU)"/>
<circle cx="687.3" cy="760.0" r="7.4" fill="url(#gU)"/>
<circle cx="693.8" cy="799.2" r="7.4" fill="url(#gU)"/>
<circle cx="691.6" cy="818.6" r="7.4" fill="url(#gU)"/>
<circle cx="689.9" cy="851.0" r="7.4" fill="url(#gU)"/>
<circle cx="692.0" cy="885.8" r="7.4" fill="url(#gU)"/>
<circle cx="690.5" cy="753.0" r="7.4" fill="url(#gU)"/>
<circle cx="685.4" cy="843.1" r="7.4" fill="url(#gU)"/>
<circle cx="697.0" cy="882.8" r="7.4" fill="url(#gU)"/>
<circle cx="694.3" cy="881.7" r="7.4" fill="url(#gU)"/>
<circle cx="696.5" cy="837.9" r="7.4" fill="url(#gU)"/>
<circle cx="693.1" cy="678.4" r="7.4" fill="url(#gU)"/>
<circle cx="690.4" cy="871.8" r="7.4" fill="url(#gU)"/>
<circle cx="691.5" cy="778.1" r="7.4" fill="url(#gU)"/>
<circle cx="683.3" cy="826.3" r="7.4" fill="url(#gU)"/>
<circle cx="693.7" cy="757.2" r="7.4" fill="url(#gU)"/>
<circle cx="678.2" cy="875.6" r="7.4" fill="url(#gU)"/>
<circle cx="699.5" cy="843.6" r="7.4" fill="url(#gU)"/>
<circle cx="696.2" cy="766.1" r="7.4" fill="url(#gU)"/>
<circle cx="689.9" cy="822.0" r="7.4" fill="url(#gU)"/>
<circle cx="687.8" cy="767.1" r="7.4" fill="url(#gU)"/>
<circle cx="684.2" cy="860.7" r="7.4" fill="url(#gU)"/>
<circle cx="697.3" cy="850.9" r="7.4" fill="url(#gU)"/>
<circle cx="694.2" cy="690.3" r="7.4" fill="url(#gU)"/>
<circle cx="690.3" cy="785.9" r="7.4" fill="url(#gU)"/>
<circle cx="687.5" cy="723.4" r="7.4" fill="url(#gU)"/>
<circle cx="695.2" cy="743.0" r="7.4" fill="url(#gU)"/>
<circle cx="698.0" cy="769.8" r="7.4" fill="url(#gU)"/>
<circle cx="679.0" cy="890.3" r="7.4" fill="url(#gU)"/>
<circle cx="694.0" cy="813.3" r="7.4" fill="url(#gU)"/>
<circle cx="693.9" cy="864.5" r="7.4" fill="url(#gU)"/>
<circle cx="685.0" cy="838.5" r="7.4" fill="url(#gU)"/>
<circle cx="690.8" cy="837.4" r="7.4" fill="url(#gU)"/>
<circle cx="682.6" cy="808.9" r="7.4" fill="url(#gU)"/>
<circle cx="685.8" cy="805.3" r="7.4" fill="url(#gU)"/>
<circle cx="686.5" cy="747.6" r="7.4" fill="url(#gU)"/>
<circle cx="697.7" cy="805.9" r="7.4" fill="url(#gU)"/>
<circle cx="692.3" cy="879.0" r="7.4" fill="url(#gU)"/>
<circle cx="691.9" cy="655.0" r="7.4" fill="url(#gU)"/>
<circle cx="693.8" cy="832.9" r="7.4" fill="url(#gU)"/>
<circle cx="691.6" cy="727.3" r="7.4" fill="url(#gU)"/>
<circle cx="681.4" cy="829.0" r="7.4" fill="url(#gU)"/>
<circle cx="681.5" cy="832.7" r="7.4" fill="url(#gU)"/>
<circle cx="699.9" cy="837.3" r="7.4" fill="url(#gU)"/>
<circle cx="685.2" cy="791.5" r="7.4" fill="url(#gU)"/>
<circle cx="688.9" cy="866.4" r="7.4" fill="url(#gU)"/>
<circle cx="687.9" cy="874.3" r="7.4" fill="url(#gU)"/>
<circle cx="691.0" cy="628.0" r="7.4" fill="url(#gU)"/>
<circle cx="695.3" cy="827.1" r="7.4" fill="url(#gU)"/>
<circle cx="688.8" cy="830.6" r="7.4" fill="url(#gU)"/>
<circle cx="696.8" cy="747.7" r="7.4" fill="url(#gU)"/>
<circle cx="683.4" cy="897.3" r="7.4" fill="url(#gU)"/>
<circle cx="679.6" cy="857.1" r="7.4" fill="url(#gU)"/>
<circle cx="693.5" cy="718.3" r="7.4" fill="url(#gU)"/>
<circle cx="675.7" cy="890.3" r="7.4" fill="url(#gU)"/>
<circle cx="694.4" cy="854.1" r="7.4" fill="url(#gU)"/>
<circle cx="678.5" cy="872.7" r="7.4" fill="url(#gU)"/>
<circle cx="684.1" cy="885.2" r="7.4" fill="url(#gU)"/>
<circle cx="680.1" cy="848.5" r="7.4" fill="url(#gU)"/>
<circle cx="690.7" cy="683.2" r="7.4" fill="url(#gU)"/>
<circle cx="697.2" cy="758.7" r="7.4" fill="url(#gU)"/>
<circle cx="688.2" cy="794.4" r="7.4" fill="url(#gU)"/>
<circle cx="692.3" cy="774.5" r="7.4" fill="url(#gU)"/>
<circle cx="694.3" cy="731.4" r="7.4" fill="url(#gU)"/>
<circle cx="684.6" cy="782.7" r="7.4" fill="url(#gU)"/>
<circle cx="676.6" cy="880.2" r="7.4" fill="url(#gU)"/>
<circle cx="685.0" cy="876.6" r="7.4" fill="url(#gU)"/>
<circle cx="684.3" cy="893.8" r="7.4" fill="url(#gU)"/>
<circle cx="687.2" cy="751.1" r="7.4" fill="url(#gU)"/>
<circle cx="691.8" cy="702.9" r="7.4" fill="url(#gU)"/>
<circle cx="694.7" cy="771.0" r="7.4" fill="url(#gU)"/>
<circle cx="694.9" cy="726.2" r="7.4" fill="url(#gU)"/>
<circle cx="700.1" cy="780.8" r="7.4" fill="url(#gU)"/>
<circle cx="696.5" cy="777.2" r="7.4" fill="url(#gU)"/>
<circle cx="697.0" cy="820.0" r="7.4" fill="url(#gU)"/>
<circle cx="682.3" cy="862.8" r="7.4" fill="url(#gU)"/>
<circle cx="692.7" cy="675.4" r="7.4" fill="url(#gU)"/>
<circle cx="698.7" cy="862.2" r="7.4" fill="url(#gU)"/>
<circle cx="690.9" cy="792.7" r="7.4" fill="url(#gU)"/>
<circle cx="692.6" cy="646.4" r="7.4" fill="url(#gU)"/>
<circle cx="685.0" cy="870.4" r="7.4" fill="url(#gU)"/>
<circle cx="686.6" cy="827.4" r="7.4" fill="url(#gU)"/>
<circle cx="697.1" cy="846.3" r="7.4" fill="url(#gU)"/>
<circle cx="691.7" cy="754.8" r="7.4" fill="url(#gU)"/>
<circle cx="688.4" cy="859.4" r="7.4" fill="url(#gU)"/>
<circle cx="689.9" cy="665.2" r="7.4" fill="url(#gU)"/>
<circle cx="691.1" cy="887.0" r="7.4" fill="url(#gU)"/>
<circle cx="684.0" cy="813.8" r="7.4" fill="url(#gU)"/>
<circle cx="698.3" cy="880.6" r="7.4" fill="url(#gU)"/>
<circle cx="679.3" cy="864.6" r="7.4" fill="url(#gU)"/>
<circle cx="689.5" cy="883.8" r="7.4" fill="url(#gU)"/>
<circle cx="681.4" cy="881.7" r="7.4" fill="url(#gU)"/>
<circle cx="692.8" cy="860.2" r="7.4" fill="url(#gU)"/>
<circle cx="694.7" cy="882.3" r="7.4" fill="url(#gU)"/>
<circle cx="690.6" cy="603.2" r="7.4" fill="url(#gU)"/>
<circle cx="677.8" cy="894.4" r="7.4" fill="url(#gU)"/>
<circle cx="694.9" cy="867.8" r="7.4" fill="url(#gU)"/>
<circle cx="691.6" cy="616.7" r="7.4" fill="url(#gU)"/>
<circle cx="686.6" cy="812.0" r="7.4" fill="url(#gU)"/>
<circle cx="694.4" cy="879.4" r="7.4" fill="url(#gU)"/>
<circle cx="692.8" cy="758.5" r="7.4" fill="url(#gU)"/>
<circle cx="686.7" cy="835.6" r="7.4" fill="url(#gU)"/>
<circle cx="692.7" cy="641.5" r="7.4" fill="url(#gU)"/>
<circle cx="696.9" cy="734.7" r="7.4" fill="url(#gU)"/>
<circle cx="683.6" cy="844.9" r="7.4" fill="url(#gU)"/>
<circle cx="691.8" cy="707.1" r="7.4" fill="url(#gU)"/>
<circle cx="681.6" cy="840.2" r="7.4" fill="url(#gU)"/>
<circle cx="684.9" cy="785.8" r="7.4" fill="url(#gU)"/>
<circle cx="692.1" cy="871.3" r="7.4" fill="url(#gU)"/>
<circle cx="688.6" cy="791.0" r="7.4" fill="url(#gU)"/>
<circle cx="693.4" cy="778.9" r="7.4" fill="url(#gU)"/>
<circle cx="693.4" cy="696.3" r="7.4" fill="url(#gU)"/>
<circle cx="688.4" cy="782.5" r="7.4" fill="url(#gU)"/>
<circle cx="700.3" cy="814.4" r="7.4" fill="url(#gU)"/>
<circle cx="689.2" cy="745.9" r="7.4" fill="url(#gU)"/>
<circle cx="696.3" cy="752.5" r="7.4" fill="url(#gU)"/>
<circle cx="698.7" cy="791.3" r="7.4" fill="url(#gU)"/>
<circle cx="686.4" cy="887.5" r="7.4" fill="url(#gU)"/>
<circle cx="684.9" cy="855.7" r="7.4" fill="url(#gU)"/>
<circle cx="692.8" cy="838.7" r="7.4" fill="url(#gU)"/>
<circle cx="695.3" cy="742.3" r="7.4" fill="url(#gU)"/>
<circle cx="685.3" cy="778.1" r="7.4" fill="url(#gU)"/>
<circle cx="685.2" cy="866.2" r="7.4" fill="url(#gU)"/>
<circle cx="686.2" cy="821.3" r="7.4" fill="url(#gU)"/>
<circle cx="680.9" cy="895.0" r="7.4" fill="url(#gU)"/>
<circle cx="692.3" cy="739.6" r="7.4" fill="url(#gU)"/>
<circle cx="700.9" cy="810.1" r="7.4" fill="url(#gU)"/>
<circle cx="689.3" cy="872.6" r="7.4" fill="url(#gU)"/>
<circle cx="695.8" cy="780.4" r="7.4" fill="url(#gU)"/>
<circle cx="681.4" cy="891.9" r="7.4" fill="url(#gU)"/>
<circle cx="683.7" cy="809.3" r="7.4" fill="url(#gU)"/>
<circle cx="689.0" cy="734.9" r="7.4" fill="url(#gU)"/>
<circle cx="693.8" cy="847.4" r="7.4" fill="url(#gU)"/>
<circle cx="688.2" cy="719.8" r="7.4" fill="url(#gU)"/>
<circle cx="694.1" cy="750.5" r="7.4" fill="url(#gU)"/>
<circle cx="697.4" cy="762.1" r="7.4" fill="url(#gU)"/>
<circle cx="683.1" cy="798.9" r="7.4" fill="url(#gU)"/>
<circle cx="690.3" cy="722.5" r="7.4" fill="url(#gU)"/>
<circle cx="691.9" cy="797.2" r="7.4" fill="url(#gU)"/>
<circle cx="685.7" cy="862.1" r="7.4" fill="url(#gU)"/>
<circle cx="685.9" cy="772.7" r="7.4" fill="url(#gU)"/>
<circle cx="689.3" cy="809.5" r="7.4" fill="url(#gU)"/>
<circle cx="681.2" cy="888.4" r="7.4" fill="url(#gU)"/>
<circle cx="691.0" cy="704.0" r="7.4" fill="url(#gU)"/>
<circle cx="696.5" cy="783.5" r="7.4" fill="url(#gU)"/>
<circle cx="677.8" cy="875.5" r="7.4" fill="url(#gU)"/>
<circle cx="687.5" cy="752.5" r="7.4" fill="url(#gU)"/>
<circle cx="689.4" cy="864.9" r="7.4" fill="url(#gU)"/>
<circle cx="694.6" cy="736.8" r="7.4" fill="url(#gU)"/>
<circle cx="683.3" cy="805.6" r="7.4" fill="url(#gU)"/>
<circle cx="698.7" cy="873.4" r="7.4" fill="url(#gU)"/>
<circle cx="694.8" cy="824.1" r="7.4" fill="url(#gU)"/>
<circle cx="686.0" cy="761.9" r="7.4" fill="url(#gU)"/>
<circle cx="693.7" cy="805.5" r="7.4" fill="url(#gU)"/>
<circle cx="688.9" cy="773.1" r="7.4" fill="url(#gU)"/>
<circle cx="688.1" cy="829.6" r="7.4" fill="url(#gU)"/>
<circle cx="687.4" cy="787.8" r="7.4" fill="url(#gU)"/>
<circle cx="699.1" cy="852.2" r="7.4" fill="url(#gU)"/>
<circle cx="694.4" cy="710.6" r="7.4" fill="url(#gU)"/>
<circle cx="688.3" cy="714.1" r="7.4" fill="url(#gU)"/>
<circle cx="690.2" cy="803.6" r="7.4" fill="url(#gU)"/>
<circle cx="694.1" cy="678.6" r="7.4" fill="url(#gU)"/>
<circle cx="695.3" cy="849.9" r="7.4" fill="url(#gU)"/>
<circle cx="694.6" cy="731.5" r="7.4" fill="url(#gU)"/>
<circle cx="698.7" cy="781.2" r="7.4" fill="url(#gU)"/>
<circle cx="690.3" cy="850.4" r="7.4" fill="url(#gU)"/>
<circle cx="698.8" cy="863.4" r="7.4" fill="url(#gU)"/>
<circle cx="689.8" cy="668.7" r="7.4" fill="url(#gU)"/>
<circle cx="697.3" cy="841.9" r="7.4" fill="url(#gU)"/>
<circle cx="692.1" cy="762.8" r="7.4" fill="url(#gU)"/>
<circle cx="689.4" cy="785.5" r="7.4" fill="url(#gU)"/>
<circle cx="694.5" cy="863.9" r="7.4" fill="url(#gU)"/>
<circle cx="686.3" cy="893.8" r="7.4" fill="url(#gU)"/>
<circle cx="693.6" cy="753.9" r="7.4" fill="url(#gU)"/>
<circle cx="690.8" cy="882.8" r="7.4" fill="url(#gU)"/>
<circle cx="690.9" cy="816.7" r="7.4" fill="url(#gU)"/>
<circle cx="692.2" cy="660.7" r="7.4" fill="url(#gU)"/>
<circle cx="693.2" cy="686.5" r="7.4" fill="url(#gU)"/>
<circle cx="688.4" cy="738.1" r="7.4" fill="url(#gU)"/>
<circle cx="692.3" cy="672.8" r="7.4" fill="url(#gU)"/>
<circle cx="682.9" cy="882.9" r="7.4" fill="url(#gU)"/>
<circle cx="700.6" cy="816.1" r="7.4" fill="url(#gU)"/>
<circle cx="687.8" cy="869.4" r="7.4" fill="url(#gU)"/>
<circle cx="688.4" cy="724.8" r="7.4" fill="url(#gU)"/>
<circle cx="691.9" cy="895.2" r="7.4" fill="url(#gU)"/>
<circle cx="689.1" cy="846.8" r="7.4" fill="url(#gU)"/>
<circle cx="691.7" cy="788.8" r="7.4" fill="url(#gU)"/>
<circle cx="695.0" cy="724.0" r="7.4" fill="url(#gU)"/>
<circle cx="686.3" cy="855.7" r="7.4" fill="url(#gU)"/>
<circle cx="684.0" cy="782.0" r="7.4" fill="url(#gU)"/>
<circle cx="686.2" cy="834.9" r="7.4" fill="url(#gU)"/>
<circle cx="695.7" cy="707.2" r="7.4" fill="url(#gU)"/>
<circle cx="690.6" cy="677.7" r="7.4" fill="url(#gU)"/>
<circle cx="696.2" cy="757.8" r="7.4" fill="url(#gU)"/>
<circle cx="690.8" cy="634.3" r="7.4" fill="url(#gU)"/>
<circle cx="680.3" cy="869.4" r="7.4" fill="url(#gU)"/>
<circle cx="692.2" cy="740.2" r="7.4" fill="url(#gU)"/>
<circle cx="684.5" cy="847.5" r="7.4" fill="url(#gU)"/>
<circle cx="681.6" cy="878.6" r="7.4" fill="url(#gU)"/>
<circle cx="692.3" cy="875.7" r="7.4" fill="url(#gU)"/>
<circle cx="684.7" cy="896.9" r="7.4" fill="url(#gU)"/>
<circle cx="689.1" cy="776.8" r="7.4" fill="url(#gU)"/>
<circle cx="690.6" cy="824.3" r="7.4" fill="url(#gU)"/>
<circle cx="699.6" cy="813.0" r="7.4" fill="url(#gU)"/>
<circle cx="697.3" cy="790.1" r="7.4" fill="url(#gU)"/>
<circle cx="691.8" cy="835.0" r="7.4" fill="url(#gU)"/>
<circle cx="698.4" cy="767.4" r="7.4" fill="url(#gU)"/>
<circle cx="688.4" cy="793.5" r="7.4" fill="url(#gU)"/>
<circle cx="692.3" cy="767.1" r="7.4" fill="url(#gU)"/>
<circle cx="694.1" cy="745.7" r="7.4" fill="url(#gU)"/>
<circle cx="684.7" cy="889.3" r="7.4" fill="url(#gU)"/>
<circle cx="693.7" cy="893.0" r="7.4" fill="url(#gU)"/>
<circle cx="692.2" cy="887.8" r="7.4" fill="url(#gU)"/>
<circle cx="691.2" cy="718.5" r="7.4" fill="url(#gU)"/>
<circle cx="687.5" cy="728.0" r="7.4" fill="url(#gU)"/>
<circle cx="675.2" cy="891.1" r="7.4" fill="url(#gU)"/>
<circle cx="683.7" cy="816.1" r="7.4" fill="url(#gU)"/>
<circle cx="695.1" cy="832.4" r="7.4" fill="url(#gU)"/>
<circle cx="694.1" cy="704.8" r="7.4" fill="url(#gU)"/>
<circle cx="684.5" cy="778.9" r="7.4" fill="url(#gU)"/>
<circle cx="689.8" cy="697.2" r="7.4" fill="url(#gU)"/>
<circle cx="687.5" cy="782.6" r="7.4" fill="url(#gU)"/>
<circle cx="682.5" cy="824.5" r="7.4" fill="url(#gU)"/>
<circle cx="690.4" cy="684.7" r="7.4" fill="url(#gU)"/>
<circle cx="695.6" cy="720.8" r="7.4" fill="url(#gU)"/>
<circle cx="678.4" cy="882.1" r="7.4" fill="url(#gU)"/>
<circle cx="684.2" cy="830.7" r="7.4" fill="url(#gU)"/>
<circle cx="696.8" cy="794.9" r="7.4" fill="url(#gU)"/>
<circle cx="684.6" cy="822.6" r="7.4" fill="url(#gU)"/>
<circle cx="696.0" cy="800.0" r="7.4" fill="url(#gU)"/>
<circle cx="691.4" cy="854.9" r="7.4" fill="url(#gU)"/>
<circle cx="677.0" cy="877.0" r="7.4" fill="url(#gU)"/>
<circle cx="689.5" cy="751.9" r="7.4" fill="url(#gU)"/>
<circle cx="694.9" cy="769.2" r="7.4" fill="url(#gU)"/>
<circle cx="695.9" cy="853.9" r="7.4" fill="url(#gU)"/>
<circle cx="691.3" cy="731.6" r="7.4" fill="url(#gU)"/>
<circle cx="684.1" cy="875.2" r="7.4" fill="url(#gU)"/>
<circle cx="687.4" cy="746.9" r="7.4" fill="url(#gU)"/>
<circle cx="695.2" cy="713.8" r="7.4" fill="url(#gU)"/>
<circle cx="692.0" cy="755.6" r="7.4" fill="url(#gU)"/>
<circle cx="690.2" cy="805.2" r="7.4" fill="url(#gU)"/>
<circle cx="696.3" cy="808.9" r="7.4" fill="url(#gU)"/>
<circle cx="683.1" cy="850.3" r="7.4" fill="url(#gU)"/>
<circle cx="701.2" cy="842.4" r="7.4" fill="url(#gU)"/>
<circle cx="685.5" cy="826.2" r="7.4" fill="url(#gU)"/>
<circle cx="691.1" cy="606.2" r="7.4" fill="url(#gU)"/>
<circle cx="691.0" cy="603.0" r="7.4" fill="url(#gU)"/>
<circle cx="688.6" cy="742.8" r="7.4" fill="url(#gU)"/>
<circle cx="683.0" cy="863.4" r="7.4" fill="url(#gU)"/>
<circle cx="680.7" cy="840.5" r="7.4" fill="url(#gU)"/>
<circle cx="695.1" cy="779.7" r="7.4" fill="url(#gU)"/>
<circle cx="698.8" cy="825.8" r="7.4" fill="url(#gU)"/>
<circle cx="687.8" cy="797.5" r="7.4" fill="url(#gU)"/>
<circle cx="690.2" cy="790.2" r="7.4" fill="url(#gU)"/>
<circle cx="687.5" cy="803.1" r="7.4" fill="url(#gU)"/>
<circle cx="683.3" cy="799.2" r="7.4" fill="url(#gU)"/>
<circle cx="694.1" cy="692.9" r="7.4" fill="url(#gU)"/>
<circle cx="689.4" cy="690.4" r="7.4" fill="url(#gU)"/>
<circle cx="688.7" cy="785.6" r="7.4" fill="url(#gU)"/>
<circle cx="690.6" cy="763.4" r="7.4" fill="url(#gU)"/>
<circle cx="686.0" cy="753.7" r="7.4" fill="url(#gU)"/>
<circle cx="690.8" cy="842.9" r="7.4" fill="url(#gU)"/>
<circle cx="676.6" cy="884.6" r="7.4" fill="url(#gU)"/>
<circle cx="694.1" cy="724.6" r="7.4" fill="url(#gU)"/>
<circle cx="698.4" cy="872.3" r="7.4" fill="url(#gU)"/>
<circle cx="699.8" cy="835.0" r="7.4" fill="url(#gU)"/>
<circle cx="687.1" cy="833.7" r="7.4" fill="url(#gU)"/>
<circle cx="693.1" cy="829.3" r="7.4" fill="url(#gU)"/>
<circle cx="694.3" cy="824.6" r="7.4" fill="url(#gU)"/>
<circle cx="682.3" cy="808.9" r="7.4" fill="url(#gU)"/>
<circle cx="694.3" cy="761.5" r="7.4" fill="url(#gU)"/>
<circle cx="681.5" cy="870.6" r="7.4" fill="url(#gU)"/>
<circle cx="694.0" cy="841.5" r="7.4" fill="url(#gU)"/>
<circle cx="686.3" cy="863.9" r="7.4" fill="url(#gU)"/>
<circle cx="690.3" cy="822.4" r="7.4" fill="url(#gU)"/>
<circle cx="683.5" cy="881.0" r="7.4" fill="url(#gU)"/>
<circle cx="695.6" cy="884.4" r="7.4" fill="url(#gU)"/>
<circle cx="692.1" cy="883.4" r="7.4" fill="url(#gU)"/>
<circle cx="719.3" cy="834.2" r="7.4" fill="url(#gU)"/>
<circle cx="722.4" cy="920.1" r="7.4" fill="url(#gU)"/>
<circle cx="736.2" cy="886.0" r="7.4" fill="url(#gU)"/>
<circle cx="732.3" cy="879.4" r="7.4" fill="url(#gU)"/>
<circle cx="729.0" cy="919.1" r="7.4" fill="url(#gU)"/>
<circle cx="729.1" cy="908.9" r="7.4" fill="url(#gU)"/>
<circle cx="735.9" cy="918.0" r="7.4" fill="url(#gU)"/>
<circle cx="728.4" cy="878.5" r="7.4" fill="url(#gU)"/>
<circle cx="732.2" cy="861.0" r="7.4" fill="url(#gU)"/>
<circle cx="719.1" cy="829.9" r="7.4" fill="url(#gU)"/>
<circle cx="729.2" cy="899.5" r="7.4" fill="url(#gU)"/>
<circle cx="733.2" cy="897.2" r="7.4" fill="url(#gU)"/>
<circle cx="721.9" cy="848.4" r="7.4" fill="url(#gU)"/>
<circle cx="733.5" cy="893.7" r="7.4" fill="url(#gU)"/>
<circle cx="727.4" cy="905.4" r="7.4" fill="url(#gU)"/>
<circle cx="730.5" cy="868.4" r="7.4" fill="url(#gU)"/>
<circle cx="733.2" cy="847.8" r="7.4" fill="url(#gU)"/>
<circle cx="724.2" cy="838.6" r="7.4" fill="url(#gU)"/>
<circle cx="738.6" cy="893.2" r="7.4" fill="url(#gU)"/>
<circle cx="724.6" cy="880.5" r="7.4" fill="url(#gU)"/>
<circle cx="721.6" cy="827.3" r="7.4" fill="url(#gU)"/>
<circle cx="739.8" cy="889.4" r="7.4" fill="url(#gU)"/>
<circle cx="734.9" cy="853.4" r="7.4" fill="url(#gU)"/>
<circle cx="726.6" cy="841.3" r="7.4" fill="url(#gU)"/>
<circle cx="728.5" cy="888.2" r="7.4" fill="url(#gU)"/>
<circle cx="723.5" cy="872.9" r="7.4" fill="url(#gU)"/>
<circle cx="720.1" cy="906.9" r="7.4" fill="url(#gU)"/>
<circle cx="736.6" cy="914.6" r="7.4" fill="url(#gU)"/>
<circle cx="733.7" cy="870.8" r="7.4" fill="url(#gU)"/>
<circle cx="731.2" cy="840.3" r="7.4" fill="url(#gU)"/>
<circle cx="734.0" cy="841.1" r="7.4" fill="url(#gU)"/>
<circle cx="723.2" cy="851.8" r="7.4" fill="url(#gU)"/>
<circle cx="719.8" cy="854.2" r="7.4" fill="url(#gU)"/>
<circle cx="726.7" cy="891.3" r="7.4" fill="url(#gU)"/>
<circle cx="731.9" cy="831.0" r="7.4" fill="url(#gU)"/>
<circle cx="720.9" cy="883.0" r="7.4" fill="url(#gU)"/>
<circle cx="736.6" cy="880.5" r="7.4" fill="url(#gU)"/>
<circle cx="726.1" cy="919.7" r="7.4" fill="url(#gU)"/>
<circle cx="725.2" cy="867.2" r="7.4" fill="url(#gU)"/>
<circle cx="723.7" cy="927.5" r="7.4" fill="url(#gU)"/>
<circle cx="718.8" cy="857.0" r="7.4" fill="url(#gU)"/>
<circle cx="725.5" cy="909.9" r="7.4" fill="url(#gU)"/>
<circle cx="739.4" cy="876.1" r="7.4" fill="url(#gU)"/>
<circle cx="722.9" cy="831.6" r="7.4" fill="url(#gU)"/>
<circle cx="731.0" cy="885.8" r="7.4" fill="url(#gU)"/>
<circle cx="734.4" cy="834.9" r="7.4" fill="url(#gU)"/>
<circle cx="740.2" cy="902.3" r="7.4" fill="url(#gU)"/>
<circle cx="740.8" cy="886.4" r="7.4" fill="url(#gU)"/>
<circle cx="733.1" cy="844.4" r="7.4" fill="url(#gU)"/>
<circle cx="729.1" cy="845.1" r="7.4" fill="url(#gU)"/>
<circle cx="731.6" cy="872.8" r="7.4" fill="url(#gU)"/>
<circle cx="726.4" cy="858.5" r="7.4" fill="url(#gU)"/>
<circle cx="722.7" cy="891.5" r="7.4" fill="url(#gU)"/>
<circle cx="727.9" cy="896.0" r="7.4" fill="url(#gU)"/>
<circle cx="723.6" cy="855.1" r="7.4" fill="url(#gU)"/>
<circle cx="726.1" cy="831.1" r="7.4" fill="url(#gU)"/>
<circle cx="726.6" cy="855.2" r="7.4" fill="url(#gU)"/>
<circle cx="720.6" cy="873.2" r="7.4" fill="url(#gU)"/>
<circle cx="727.1" cy="869.7" r="7.4" fill="url(#gU)"/>
<circle cx="736.3" cy="909.6" r="7.4" fill="url(#gU)"/>
<circle cx="735.2" cy="850.3" r="7.4" fill="url(#gU)"/>
<circle cx="735.7" cy="902.2" r="7.4" fill="url(#gU)"/>
<circle cx="740.8" cy="910.8" r="7.4" fill="url(#gU)"/>
<circle cx="736.9" cy="871.5" r="7.4" fill="url(#gU)"/>
<circle cx="724.2" cy="913.3" r="7.4" fill="url(#gU)"/>
<circle cx="727.9" cy="837.5" r="7.4" fill="url(#gU)"/>
<circle cx="741.0" cy="905.9" r="7.4" fill="url(#gU)"/>
<circle cx="719.5" cy="896.3" r="7.4" fill="url(#gU)"/>
<circle cx="734.5" cy="912.0" r="7.4" fill="url(#gU)"/>
<circle cx="722.5" cy="844.3" r="7.4" fill="url(#gU)"/>
<circle cx="737.2" cy="861.4" r="7.4" fill="url(#gU)"/>
<circle cx="730.0" cy="849.2" r="7.4" fill="url(#gU)"/>
<circle cx="721.3" cy="864.5" r="7.4" fill="url(#gU)"/>
<circle cx="731.0" cy="852.6" r="7.4" fill="url(#gU)"/>
<circle cx="731.6" cy="903.6" r="7.4" fill="url(#gU)"/>
<circle cx="729.3" cy="907.3" r="7.4" fill="url(#gU)"/>
<circle cx="733.1" cy="907.1" r="7.4" fill="url(#gU)"/>
<circle cx="724.3" cy="907.2" r="7.4" fill="url(#gU)"/>
<circle cx="735.3" cy="920.3" r="7.4" fill="url(#gU)"/>
<circle cx="736.1" cy="898.0" r="7.4" fill="url(#gU)"/>
<circle cx="733.7" cy="864.6" r="7.4" fill="url(#gU)"/>
<circle cx="739.9" cy="914.3" r="7.4" fill="url(#gU)"/>
<circle cx="733.9" cy="887.7" r="7.4" fill="url(#gU)"/>
<circle cx="726.9" cy="861.7" r="7.4" fill="url(#gU)"/>
<circle cx="730.5" cy="877.3" r="7.4" fill="url(#gU)"/>
<circle cx="727.8" cy="882.9" r="7.4" fill="url(#gU)"/>
<circle cx="725.4" cy="836.1" r="7.4" fill="url(#gU)"/>
<circle cx="723.5" cy="847.0" r="7.4" fill="url(#gU)"/>
<circle cx="724.3" cy="863.6" r="7.4" fill="url(#gU)"/>
<circle cx="731.6" cy="899.2" r="7.4" fill="url(#gU)"/>
<circle cx="721.3" cy="918.5" r="7.4" fill="url(#gU)"/>
<circle cx="728.9" cy="865.8" r="7.4" fill="url(#gU)"/>
<circle cx="726.0" cy="850.9" r="7.4" fill="url(#gU)"/>
<circle cx="724.1" cy="900.7" r="7.4" fill="url(#gU)"/>
<circle cx="729.0" cy="833.2" r="7.4" fill="url(#gU)"/>
<circle cx="737.2" cy="890.1" r="7.4" fill="url(#gU)"/>
<circle cx="726.9" cy="887.9" r="7.4" fill="url(#gU)"/>
<circle cx="726.1" cy="924.3" r="7.4" fill="url(#gU)"/>
<circle cx="728.4" cy="918.9" r="7.4" fill="url(#gU)"/>
<circle cx="728.7" cy="891.6" r="7.4" fill="url(#gU)"/>
<circle cx="721.4" cy="888.1" r="7.4" fill="url(#gU)"/>
<circle cx="726.4" cy="827.8" r="7.4" fill="url(#gU)"/>
<circle cx="719.4" cy="907.0" r="7.4" fill="url(#gU)"/>
<circle cx="727.0" cy="878.1" r="7.4" fill="url(#gU)"/>
<circle cx="737.4" cy="878.2" r="7.4" fill="url(#gU)"/>
<circle cx="723.3" cy="851.7" r="7.4" fill="url(#gU)"/>
<circle cx="719.4" cy="831.4" r="7.4" fill="url(#gU)"/>
<circle cx="736.5" cy="893.8" r="7.4" fill="url(#gU)"/>
<circle cx="727.2" cy="927.3" r="7.4" fill="url(#gU)"/>
<circle cx="722.5" cy="876.2" r="7.4" fill="url(#gU)"/>
<circle cx="721.5" cy="867.8" r="7.4" fill="url(#gU)"/>
<circle cx="733.8" cy="847.2" r="7.4" fill="url(#gU)"/>
<circle cx="734.0" cy="853.3" r="7.4" fill="url(#gU)"/>
<circle cx="731.3" cy="831.2" r="7.4" fill="url(#gU)"/>
<circle cx="721.1" cy="834.9" r="7.4" fill="url(#gU)"/>
<circle cx="734.4" cy="858.8" r="7.4" fill="url(#gU)"/>
<circle cx="732.6" cy="837.9" r="7.4" fill="url(#gU)"/>
<circle cx="731.1" cy="888.6" r="7.4" fill="url(#gU)"/>
<circle cx="719.3" cy="837.6" r="7.4" fill="url(#gU)"/>
<circle cx="737.1" cy="885.8" r="7.4" fill="url(#gU)"/>
<circle cx="732.9" cy="883.4" r="7.4" fill="url(#gU)"/>
<circle cx="730.1" cy="921.6" r="7.4" fill="url(#gU)"/>
<circle cx="734.4" cy="916.3" r="7.4" fill="url(#gU)"/>
<circle cx="732.4" cy="896.1" r="7.4" fill="url(#gU)"/>
<circle cx="722.1" cy="910.5" r="7.4" fill="url(#gU)"/>
<circle cx="724.3" cy="913.4" r="7.4" fill="url(#gU)"/>
<circle cx="720.4" cy="861.6" r="7.4" fill="url(#gU)"/>
<circle cx="740.3" cy="895.0" r="7.4" fill="url(#gU)"/>
<circle cx="728.1" cy="859.1" r="7.4" fill="url(#gU)"/>
<circle cx="721.3" cy="856.4" r="7.4" fill="url(#gU)"/>
<circle cx="720.3" cy="845.6" r="7.4" fill="url(#gU)"/>
<circle cx="718.4" cy="888.9" r="7.4" fill="url(#gU)"/>
<circle cx="730.2" cy="880.7" r="7.4" fill="url(#gU)"/>
<circle cx="487.4" cy="870.7" r="7.4" fill="url(#gU)"/>
<circle cx="484.2" cy="862.1" r="7.4" fill="url(#gU)"/>
<circle cx="486.5" cy="890.5" r="7.4" fill="url(#gU)"/>
<circle cx="484.8" cy="866.0" r="7.4" fill="url(#gU)"/>
<circle cx="487.0" cy="874.3" r="7.4" fill="url(#gU)"/>
<circle cx="488.4" cy="882.4" r="7.4" fill="url(#gU)"/>
<circle cx="487.3" cy="896.7" r="7.4" fill="url(#gU)"/>
<circle cx="484.2" cy="858.1" r="7.4" fill="url(#gU)"/>
<circle cx="486.5" cy="877.5" r="7.4" fill="url(#gU)"/>
<circle cx="484.4" cy="869.7" r="7.4" fill="url(#gU)"/>
<circle cx="487.4" cy="862.9" r="7.4" fill="url(#gU)"/>
<circle cx="484.3" cy="875.6" r="7.4" fill="url(#gU)"/>
<circle cx="484.9" cy="881.0" r="7.4" fill="url(#gU)"/>
<circle cx="487.8" cy="866.1" r="7.4" fill="url(#gU)"/>
<circle cx="487.2" cy="887.3" r="7.4" fill="url(#gU)"/>
<circle cx="485.2" cy="884.4" r="7.4" fill="url(#gU)"/>
<circle cx="486.8" cy="859.9" r="7.4" fill="url(#gU)"/>
<circle cx="488.3" cy="893.4" r="7.4" fill="url(#gU)"/>
<circle cx="474.3" cy="970.2" r="7.4" fill="url(#gU)"/>
<circle cx="473.7" cy="963.4" r="7.4" fill="url(#gU)"/>
<circle cx="474.6" cy="966.6" r="7.4" fill="url(#gU)"/>
<circle cx="488.0" cy="799.6" r="7.4" fill="url(#gU)"/>
<circle cx="552.6" cy="838.5" r="7.4" fill="url(#gU)"/>
<circle cx="553.2" cy="854.1" r="7.4" fill="url(#gU)"/>
<circle cx="518.1" cy="886.0" r="7.4" fill="url(#gU)"/>
<circle cx="549.3" cy="886.0" r="7.4" fill="url(#gU)"/>
<circle cx="559.7" cy="955.5" r="7.4" fill="url(#gU)"/>
<circle cx="551.9" cy="970.4" r="7.4" fill="url(#gU)"/>
<circle cx="732.0" cy="801.4" r="7.4" fill="url(#gU)"/>
<circle cx="736.4" cy="816.6" r="7.4" fill="url(#gU)"/>
<circle cx="724.0" cy="939.0" r="7.4" fill="url(#gU)"/>
<circle cx="724.0" cy="955.0" r="7.4" fill="url(#gU)"/>
<circle cx="737.3" cy="960.4" r="7.4" fill="url(#gU)"/>
<circle cx="725.7" cy="991.6" r="7.4" fill="url(#gU)"/>
<circle cx="724.9" cy="1069.5" r="7.4" fill="url(#gU)"/>
<circle cx="724.9" cy="1081.0" r="7.4" fill="url(#gU)"/>
<circle cx="692.6" cy="1011.5" r="7.4" fill="url(#gU)"/>
<circle cx="694.5" cy="897.5" r="7.4" fill="url(#gU)"/>
<circle cx="690.6" cy="911.0" r="7.4" fill="url(#gU)"/>
<circle cx="695.5" cy="920.0" r="7.4" fill="url(#gU)"/>
<circle cx="658.5" cy="901.4" r="7.4" fill="url(#gU)"/>
<circle cx="641.0" cy="747.0" r="7.4" fill="url(#gU)"/>
<circle cx="657.0" cy="747.0" r="7.4" fill="url(#gU)"/>
<circle cx="690.5" cy="597.0" r="7.4" fill="url(#gU)"/>
<circle cx="692.0" cy="605.0" r="7.4" fill="url(#gU)"/>
<circle cx="690.0" cy="615.0" r="7.4" fill="url(#gU)"/>
<circle cx="693.0" cy="626.0" r="7.4" fill="url(#gU)"/>
<circle cx="691.0" cy="640.0" r="7.4" fill="url(#gU)"/>
<circle cx="693.0" cy="652.0" r="7.4" fill="url(#gU)"/>
<circle cx="690.0" cy="665.0" r="7.4" fill="url(#gU)"/>
<circle cx="692.0" cy="678.0" r="7.4" fill="url(#gU)"/>
<circle cx="691.0" cy="690.0" r="7.4" fill="url(#gU)"/>
<circle cx="639.0" cy="831.0" r="7.4" fill="url(#gU)"/>
<circle cx="612.0" cy="898.0" r="7.4" fill="url(#gU)"/>
<circle cx="603.0" cy="893.7" r="7.4" fill="url(#gU)"/>
<circle cx="595.0" cy="907.5" r="7.4" fill="url(#gU)"/>
<circle cx="589.0" cy="903.0" r="7.4" fill="url(#gU)"/>
<circle cx="601.0" cy="901.0" r="7.4" fill="url(#gU)"/>
<circle cx="566.0" cy="924.0" r="7.4" fill="url(#gU)"/>
<circle cx="572.0" cy="917.0" r="7.4" fill="url(#gU)"/>
<circle cx="604.0" cy="889.0" r="7.4" fill="url(#gU)"/>
</g>
<g id="redData">
<circle cx="463.5" cy="913.4" r="7.4" fill="url(#gR)"/>
<circle cx="482.0" cy="902.3" r="7.4" fill="url(#gR)"/>
<circle cx="454.9" cy="893.4" r="7.4" fill="url(#gR)"/>
<circle cx="452.8" cy="886.8" r="7.4" fill="url(#gR)"/>
<circle cx="413.9" cy="999.2" r="7.4" fill="url(#gR)"/>
<circle cx="446.1" cy="950.8" r="7.4" fill="url(#gR)"/>
<circle cx="471.0" cy="904.9" r="7.4" fill="url(#gR)"/>
<circle cx="469.6" cy="900.5" r="7.4" fill="url(#gR)"/>
<circle cx="422.8" cy="984.7" r="7.4" fill="url(#gR)"/>
<circle cx="460.4" cy="934.3" r="7.4" fill="url(#gR)"/>
<circle cx="487.0" cy="920.5" r="7.4" fill="url(#gR)"/>
<circle cx="465.3" cy="927.2" r="7.4" fill="url(#gR)"/>
<circle cx="458.3" cy="881.0" r="7.4" fill="url(#gR)"/>
<circle cx="480.7" cy="918.0" r="7.4" fill="url(#gR)"/>
<circle cx="405.6" cy="1008.0" r="7.4" fill="url(#gR)"/>
<circle cx="422.0" cy="1000.3" r="7.4" fill="url(#gR)"/>
<circle cx="449.9" cy="884.2" r="7.4" fill="url(#gR)"/>
<circle cx="468.2" cy="924.2" r="7.4" fill="url(#gR)"/>
<circle cx="483.0" cy="908.8" r="7.4" fill="url(#gR)"/>
<circle cx="403.9" cy="1014.5" r="7.4" fill="url(#gR)"/>
<circle cx="457.5" cy="921.7" r="7.4" fill="url(#gR)"/>
<circle cx="435.7" cy="971.1" r="7.4" fill="url(#gR)"/>
<circle cx="436.1" cy="979.1" r="7.4" fill="url(#gR)"/>
<circle cx="476.3" cy="921.9" r="7.4" fill="url(#gR)"/>
<circle cx="451.4" cy="877.8" r="7.4" fill="url(#gR)"/>
<circle cx="441.5" cy="958.4" r="7.4" fill="url(#gR)"/>
<circle cx="444.8" cy="942.5" r="7.4" fill="url(#gR)"/>
<circle cx="421.1" cy="990.4" r="7.4" fill="url(#gR)"/>
<circle cx="419.2" cy="1004.7" r="7.4" fill="url(#gR)"/>
<circle cx="446.4" cy="932.1" r="7.4" fill="url(#gR)"/>
<circle cx="481.1" cy="892.0" r="7.4" fill="url(#gR)"/>
<circle cx="429.1" cy="994.3" r="7.4" fill="url(#gR)"/>
<circle cx="470.6" cy="892.7" r="7.4" fill="url(#gR)"/>
<circle cx="473.2" cy="917.5" r="7.4" fill="url(#gR)"/>
<circle cx="448.2" cy="920.4" r="7.4" fill="url(#gR)"/>
<circle cx="468.2" cy="886.9" r="7.4" fill="url(#gR)"/>
<circle cx="464.0" cy="907.9" r="7.4" fill="url(#gR)"/>
<circle cx="478.7" cy="936.1" r="7.4" fill="url(#gR)"/>
<circle cx="475.7" cy="955.7" r="7.4" fill="url(#gR)"/>
<circle cx="479.0" cy="959.6" r="7.4" fill="url(#gR)"/>
<circle cx="437.2" cy="967.5" r="7.4" fill="url(#gR)"/>
<circle cx="466.6" cy="912.0" r="7.4" fill="url(#gR)"/>
<circle cx="492.1" cy="933.1" r="7.4" fill="url(#gR)"/>
<circle cx="456.0" cy="924.3" r="7.4" fill="url(#gR)"/>
<circle cx="475.1" cy="899.8" r="7.4" fill="url(#gR)"/>
<circle cx="458.1" cy="913.9" r="7.4" fill="url(#gR)"/>
<circle cx="430.4" cy="975.7" r="7.4" fill="url(#gR)"/>
<circle cx="485.3" cy="948.8" r="7.4" fill="url(#gR)"/>
<circle cx="480.4" cy="943.0" r="7.4" fill="url(#gR)"/>
<circle cx="455.0" cy="869.3" r="7.4" fill="url(#gR)"/>
<circle cx="449.5" cy="912.4" r="7.4" fill="url(#gR)"/>
<circle cx="476.4" cy="902.4" r="7.4" fill="url(#gR)"/>
<circle cx="379.1" cy="1029.6" r="7.4" fill="url(#gR)"/>
<circle cx="462.9" cy="868.7" r="7.4" fill="url(#gR)"/>
<circle cx="466.3" cy="931.2" r="7.4" fill="url(#gR)"/>
<circle cx="452.8" cy="866.8" r="7.4" fill="url(#gR)"/>
<circle cx="433.0" cy="974.9" r="7.4" fill="url(#gR)"/>
<circle cx="488.1" cy="918.0" r="7.4" fill="url(#gR)"/>
<circle cx="393.5" cy="1019.7" r="7.4" fill="url(#gR)"/>
<circle cx="449.6" cy="905.8" r="7.4" fill="url(#gR)"/>
<circle cx="451.4" cy="898.9" r="7.4" fill="url(#gR)"/>
<circle cx="428.6" cy="998.3" r="7.4" fill="url(#gR)"/>
<circle cx="454.7" cy="933.9" r="7.4" fill="url(#gR)"/>
<circle cx="451.3" cy="928.3" r="7.4" fill="url(#gR)"/>
<circle cx="466.8" cy="880.6" r="7.4" fill="url(#gR)"/>
<circle cx="382.7" cy="1028.3" r="7.4" fill="url(#gR)"/>
<circle cx="434.3" cy="984.6" r="7.4" fill="url(#gR)"/>
<circle cx="486.5" cy="893.9" r="7.4" fill="url(#gR)"/>
<circle cx="450.9" cy="915.6" r="7.4" fill="url(#gR)"/>
<circle cx="467.0" cy="894.7" r="7.4" fill="url(#gR)"/>
<circle cx="410.5" cy="1015.8" r="7.4" fill="url(#gR)"/>
<circle cx="472.9" cy="935.6" r="7.4" fill="url(#gR)"/>
<circle cx="472.2" cy="922.7" r="7.4" fill="url(#gR)"/>
<circle cx="454.0" cy="911.4" r="7.4" fill="url(#gR)"/>
<circle cx="448.4" cy="947.3" r="7.4" fill="url(#gR)"/>
<circle cx="481.4" cy="925.6" r="7.4" fill="url(#gR)"/>
<circle cx="459.9" cy="874.0" r="7.4" fill="url(#gR)"/>
<circle cx="422.6" cy="998.5" r="7.4" fill="url(#gR)"/>
<circle cx="459.4" cy="906.5" r="7.4" fill="url(#gR)"/>
<circle cx="488.8" cy="903.4" r="7.4" fill="url(#gR)"/>
<circle cx="471.8" cy="901.1" r="7.4" fill="url(#gR)"/>
<circle cx="475.4" cy="952.6" r="7.4" fill="url(#gR)"/>
<circle cx="487.1" cy="958.2" r="7.4" fill="url(#gR)"/>
<circle cx="453.1" cy="942.4" r="7.4" fill="url(#gR)"/>
<circle cx="453.8" cy="872.2" r="7.4" fill="url(#gR)"/>
<circle cx="476.1" cy="925.8" r="7.4" fill="url(#gR)"/>
<circle cx="457.1" cy="885.3" r="7.4" fill="url(#gR)"/>
<circle cx="492.6" cy="950.6" r="7.4" fill="url(#gR)"/>
<circle cx="477.4" cy="894.1" r="7.4" fill="url(#gR)"/>
<circle cx="462.5" cy="931.5" r="7.4" fill="url(#gR)"/>
<circle cx="483.4" cy="901.6" r="7.4" fill="url(#gR)"/>
<circle cx="478.6" cy="946.3" r="7.4" fill="url(#gR)"/>
<circle cx="474.5" cy="928.3" r="7.4" fill="url(#gR)"/>
<circle cx="451.7" cy="923.6" r="7.4" fill="url(#gR)"/>
<circle cx="394.1" cy="1024.6" r="7.4" fill="url(#gR)"/>
<circle cx="412.9" cy="1013.7" r="7.4" fill="url(#gR)"/>
<circle cx="477.3" cy="884.0" r="7.4" fill="url(#gR)"/>
<circle cx="462.6" cy="909.3" r="7.4" fill="url(#gR)"/>
<circle cx="457.0" cy="889.5" r="7.4" fill="url(#gR)"/>
<circle cx="441.4" cy="962.4" r="7.4" fill="url(#gR)"/>
<circle cx="449.2" cy="892.3" r="7.4" fill="url(#gR)"/>
<circle cx="470.6" cy="879.1" r="7.4" fill="url(#gR)"/>
<circle cx="477.3" cy="890.9" r="7.4" fill="url(#gR)"/>
<circle cx="486.9" cy="922.3" r="7.4" fill="url(#gR)"/>
<circle cx="488.5" cy="951.3" r="7.4" fill="url(#gR)"/>
<circle cx="452.4" cy="881.0" r="7.4" fill="url(#gR)"/>
<circle cx="437.6" cy="982.2" r="7.4" fill="url(#gR)"/>
<circle cx="409.6" cy="1012.2" r="7.4" fill="url(#gR)"/>
<circle cx="458.8" cy="866.9" r="7.4" fill="url(#gR)"/>
<circle cx="431.5" cy="980.3" r="7.4" fill="url(#gR)"/>
<circle cx="400.8" cy="1018.0" r="7.4" fill="url(#gR)"/>
<circle cx="452.5" cy="893.7" r="7.4" fill="url(#gR)"/>
<circle cx="435.1" cy="972.9" r="7.4" fill="url(#gR)"/>
<circle cx="427.3" cy="981.5" r="7.4" fill="url(#gR)"/>
<circle cx="417.8" cy="1008.3" r="7.4" fill="url(#gR)"/>
<circle cx="455.3" cy="901.9" r="7.4" fill="url(#gR)"/>
<circle cx="480.4" cy="889.2" r="7.4" fill="url(#gR)"/>
<circle cx="432.6" cy="977.1" r="7.4" fill="url(#gR)"/>
<circle cx="466.8" cy="946.4" r="7.4" fill="url(#gR)"/>
<circle cx="479.3" cy="936.9" r="7.4" fill="url(#gR)"/>
<circle cx="483.8" cy="943.2" r="7.4" fill="url(#gR)"/>
<circle cx="454.8" cy="930.7" r="7.4" fill="url(#gR)"/>
<circle cx="458.1" cy="878.5" r="7.4" fill="url(#gR)"/>
<circle cx="392.4" cy="1021.0" r="7.4" fill="url(#gR)"/>
<circle cx="489.9" cy="938.5" r="7.4" fill="url(#gR)"/>
<circle cx="489.7" cy="900.1" r="7.4" fill="url(#gR)"/>
<circle cx="488.8" cy="941.3" r="7.4" fill="url(#gR)"/>
<circle cx="487.2" cy="915.1" r="7.4" fill="url(#gR)"/>
<circle cx="450.5" cy="927.5" r="7.4" fill="url(#gR)"/>
<circle cx="416.1" cy="998.2" r="7.4" fill="url(#gR)"/>
<circle cx="474.9" cy="911.9" r="7.4" fill="url(#gR)"/>
<circle cx="459.8" cy="869.9" r="7.4" fill="url(#gR)"/>
<circle cx="425.0" cy="1000.7" r="7.4" fill="url(#gR)"/>
<circle cx="453.8" cy="907.7" r="7.4" fill="url(#gR)"/>
<circle cx="468.3" cy="901.1" r="7.4" fill="url(#gR)"/>
<circle cx="448.9" cy="896.2" r="7.4" fill="url(#gR)"/>
<circle cx="436.3" cy="962.6" r="7.4" fill="url(#gR)"/>
<circle cx="491.7" cy="909.6" r="7.4" fill="url(#gR)"/>
<circle cx="436.1" cy="959.1" r="7.4" fill="url(#gR)"/>
<circle cx="461.8" cy="922.1" r="7.4" fill="url(#gR)"/>
<circle cx="447.8" cy="942.0" r="7.4" fill="url(#gR)"/>
<circle cx="468.5" cy="896.3" r="7.4" fill="url(#gR)"/>
<circle cx="483.0" cy="923.3" r="7.4" fill="url(#gR)"/>
<circle cx="463.0" cy="877.8" r="7.4" fill="url(#gR)"/>
<circle cx="455.7" cy="918.8" r="7.4" fill="url(#gR)"/>
<circle cx="490.6" cy="953.6" r="7.4" fill="url(#gR)"/>
<circle cx="466.0" cy="882.4" r="7.4" fill="url(#gR)"/>
<circle cx="491.8" cy="936.0" r="7.4" fill="url(#gR)"/>
<circle cx="482.5" cy="908.8" r="7.4" fill="url(#gR)"/>
<circle cx="491.1" cy="945.0" r="7.4" fill="url(#gR)"/>
<circle cx="479.8" cy="909.9" r="7.4" fill="url(#gR)"/>
<circle cx="477.8" cy="920.1" r="7.4" fill="url(#gR)"/>
<circle cx="471.7" cy="939.4" r="7.4" fill="url(#gR)"/>
<circle cx="459.7" cy="894.6" r="7.4" fill="url(#gR)"/>
<circle cx="488.2" cy="956.4" r="7.4" fill="url(#gR)"/>
<circle cx="457.8" cy="911.0" r="7.4" fill="url(#gR)"/>
<circle cx="467.3" cy="943.5" r="7.4" fill="url(#gR)"/>
<circle cx="467.8" cy="932.6" r="7.4" fill="url(#gR)"/>
<circle cx="469.9" cy="937.2" r="7.4" fill="url(#gR)"/>
<circle cx="475.4" cy="950.0" r="7.4" fill="url(#gR)"/>
<circle cx="475.1" cy="880.4" r="7.4" fill="url(#gR)"/>
<circle cx="442.1" cy="971.5" r="7.4" fill="url(#gR)"/>
<circle cx="430.5" cy="995.6" r="7.4" fill="url(#gR)"/>
<circle cx="441.4" cy="968.3" r="7.4" fill="url(#gR)"/>
<circle cx="431.9" cy="974.3" r="7.4" fill="url(#gR)"/>
<circle cx="453.7" cy="876.6" r="7.4" fill="url(#gR)"/>
<circle cx="478.7" cy="954.9" r="7.4" fill="url(#gR)"/>
<circle cx="468.7" cy="909.7" r="7.4" fill="url(#gR)"/>
<circle cx="414.4" cy="1003.7" r="7.4" fill="url(#gR)"/>
<circle cx="474.6" cy="888.4" r="7.4" fill="url(#gR)"/>
<circle cx="420.9" cy="993.9" r="7.4" fill="url(#gR)"/>
<circle cx="450.6" cy="917.5" r="7.4" fill="url(#gR)"/>
<circle cx="444.6" cy="948.0" r="7.4" fill="url(#gR)"/>
<circle cx="484.8" cy="948.9" r="7.4" fill="url(#gR)"/>
<circle cx="449.8" cy="889.0" r="7.4" fill="url(#gR)"/>
<circle cx="415.7" cy="1010.0" r="7.4" fill="url(#gR)"/>
<circle cx="486.4" cy="929.7" r="7.4" fill="url(#gR)"/>
<circle cx="483.4" cy="952.7" r="7.4" fill="url(#gR)"/>
<circle cx="406.1" cy="1008.2" r="7.4" fill="url(#gR)"/>
<circle cx="465.4" cy="915.5" r="7.4" fill="url(#gR)"/>
<circle cx="478.4" cy="884.1" r="7.4" fill="url(#gR)"/>
<circle cx="467.7" cy="924.9" r="7.4" fill="url(#gR)"/>
<circle cx="462.8" cy="936.7" r="7.4" fill="url(#gR)"/>
<circle cx="482.4" cy="912.1" r="7.4" fill="url(#gR)"/>
<circle cx="429.0" cy="992.9" r="7.4" fill="url(#gR)"/>
<circle cx="473.4" cy="918.8" r="7.4" fill="url(#gR)"/>
<circle cx="421.6" cy="1005.8" r="7.4" fill="url(#gR)"/>
<circle cx="470.8" cy="886.6" r="7.4" fill="url(#gR)"/>
<circle cx="486.3" cy="951.6" r="7.4" fill="url(#gR)"/>
<circle cx="409.8" cy="1017.6" r="7.4" fill="url(#gR)"/>
<circle cx="462.5" cy="903.2" r="7.4" fill="url(#gR)"/>
<circle cx="434.7" cy="972.2" r="7.4" fill="url(#gR)"/>
<circle cx="425.3" cy="996.9" r="7.4" fill="url(#gR)"/>
<circle cx="436.6" cy="969.7" r="7.4" fill="url(#gR)"/>
<circle cx="437.7" cy="953.5" r="7.4" fill="url(#gR)"/>
<circle cx="416.8" cy="1006.7" r="7.4" fill="url(#gR)"/>
<circle cx="451.8" cy="911.8" r="7.4" fill="url(#gR)"/>
<circle cx="444.8" cy="961.9" r="7.4" fill="url(#gR)"/>
<circle cx="474.8" cy="942.6" r="7.4" fill="url(#gR)"/>
<circle cx="464.3" cy="869.9" r="7.4" fill="url(#gR)"/>
<circle cx="481.4" cy="934.6" r="7.4" fill="url(#gR)"/>
<circle cx="403.5" cy="1016.1" r="7.4" fill="url(#gR)"/>
<circle cx="432.2" cy="989.2" r="7.4" fill="url(#gR)"/>
<circle cx="419.1" cy="1000.5" r="7.4" fill="url(#gR)"/>
<circle cx="459.9" cy="921.1" r="7.4" fill="url(#gR)"/>
<circle cx="442.9" cy="940.0" r="7.4" fill="url(#gR)"/>
<circle cx="471.7" cy="961.1" r="7.4" fill="url(#gR)"/>
<circle cx="453.3" cy="929.4" r="7.4" fill="url(#gR)"/>
<circle cx="453.0" cy="941.3" r="7.4" fill="url(#gR)"/>
<circle cx="465.7" cy="884.4" r="7.4" fill="url(#gR)"/>
<circle cx="459.2" cy="914.1" r="7.4" fill="url(#gR)"/>
<circle cx="461.5" cy="899.4" r="7.4" fill="url(#gR)"/>
<circle cx="385.5" cy="1025.4" r="7.4" fill="url(#gR)"/>
<circle cx="463.7" cy="886.5" r="7.4" fill="url(#gR)"/>
<circle cx="453.5" cy="881.1" r="7.4" fill="url(#gR)"/>
<circle cx="487.6" cy="923.5" r="7.4" fill="url(#gR)"/>
<circle cx="482.7" cy="903.8" r="7.4" fill="url(#gR)"/>
<circle cx="473.2" cy="928.0" r="7.4" fill="url(#gR)"/>
<circle cx="453.4" cy="896.5" r="7.4" fill="url(#gR)"/>
<circle cx="413.0" cy="1013.9" r="7.4" fill="url(#gR)"/>
<circle cx="472.5" cy="884.2" r="7.4" fill="url(#gR)"/>
<circle cx="448.2" cy="892.3" r="7.4" fill="url(#gR)"/>
<circle cx="474.5" cy="961.3" r="7.4" fill="url(#gR)"/>
<circle cx="491.4" cy="915.2" r="7.4" fill="url(#gR)"/>
<circle cx="488.1" cy="903.5" r="7.4" fill="url(#gR)"/>
<circle cx="445.8" cy="919.8" r="7.4" fill="url(#gR)"/>
<circle cx="491.8" cy="948.4" r="7.4" fill="url(#gR)"/>
<circle cx="468.4" cy="935.3" r="7.4" fill="url(#gR)"/>
<circle cx="437.3" cy="964.9" r="7.4" fill="url(#gR)"/>
<circle cx="458.9" cy="866.9" r="7.4" fill="url(#gR)"/>
<circle cx="457.2" cy="937.6" r="7.4" fill="url(#gR)"/>
<circle cx="490.6" cy="953.8" r="7.4" fill="url(#gR)"/>
<circle cx="450.4" cy="931.9" r="7.4" fill="url(#gR)"/>
<circle cx="472.9" cy="901.0" r="7.4" fill="url(#gR)"/>
<circle cx="451.4" cy="885.3" r="7.4" fill="url(#gR)"/>
<circle cx="477.9" cy="912.5" r="7.4" fill="url(#gR)"/>
<circle cx="447.8" cy="911.4" r="7.4" fill="url(#gR)"/>
<circle cx="473.3" cy="956.7" r="7.4" fill="url(#gR)"/>
<circle cx="456.1" cy="895.6" r="7.4" fill="url(#gR)"/>
<circle cx="440.4" cy="955.0" r="7.4" fill="url(#gR)"/>
<circle cx="476.8" cy="937.0" r="7.4" fill="url(#gR)"/>
<circle cx="481.0" cy="937.9" r="7.4" fill="url(#gR)"/>
<circle cx="452.9" cy="891.3" r="7.4" fill="url(#gR)"/>
<circle cx="471.1" cy="890.6" r="7.4" fill="url(#gR)"/>
<circle cx="467.9" cy="947.1" r="7.4" fill="url(#gR)"/>
<circle cx="487.2" cy="898.0" r="7.4" fill="url(#gR)"/>
<circle cx="463.4" cy="893.1" r="7.4" fill="url(#gR)"/>
<circle cx="471.2" cy="896.8" r="7.4" fill="url(#gR)"/>
<circle cx="456.4" cy="864.3" r="7.4" fill="url(#gR)"/>
<circle cx="440.4" cy="960.6" r="7.4" fill="url(#gR)"/>
<circle cx="488.8" cy="907.3" r="7.4" fill="url(#gR)"/>
<circle cx="475.1" cy="904.8" r="7.4" fill="url(#gR)"/>
<circle cx="418.7" cy="1003.7" r="7.4" fill="url(#gR)"/>
<circle cx="473.6" cy="948.4" r="7.4" fill="url(#gR)"/>
<circle cx="479.3" cy="915.1" r="7.4" fill="url(#gR)"/>
<circle cx="465.9" cy="913.3" r="7.4" fill="url(#gR)"/>
<circle cx="470.0" cy="930.1" r="7.4" fill="url(#gR)"/>
<circle cx="458.2" cy="891.8" r="7.4" fill="url(#gR)"/>
<circle cx="468.9" cy="885.5" r="7.4" fill="url(#gR)"/>
<circle cx="470.7" cy="952.0" r="7.4" fill="url(#gR)"/>
<circle cx="465.6" cy="899.4" r="7.4" fill="url(#gR)"/>
<circle cx="443.4" cy="963.8" r="7.4" fill="url(#gR)"/>
<circle cx="454.6" cy="887.7" r="7.4" fill="url(#gR)"/>
<circle cx="446.3" cy="945.0" r="7.4" fill="url(#gR)"/>
<circle cx="400.7" cy="1016.7" r="7.4" fill="url(#gR)"/>
<circle cx="432.1" cy="967.7" r="7.4" fill="url(#gR)"/>
<circle cx="470.6" cy="876.0" r="7.4" fill="url(#gR)"/>
<circle cx="440.3" cy="974.5" r="7.4" fill="url(#gR)"/>
<circle cx="483.5" cy="918.2" r="7.4" fill="url(#gR)"/>
<circle cx="451.2" cy="905.5" r="7.4" fill="url(#gR)"/>
<circle cx="478.1" cy="898.1" r="7.4" fill="url(#gR)"/>
<circle cx="460.6" cy="872.5" r="7.4" fill="url(#gR)"/>
<circle cx="487.0" cy="939.1" r="7.4" fill="url(#gR)"/>
<circle cx="477.9" cy="958.0" r="7.4" fill="url(#gR)"/>
<circle cx="489.7" cy="921.4" r="7.4" fill="url(#gR)"/>
<circle cx="491.7" cy="943.0" r="7.4" fill="url(#gR)"/>
<circle cx="484.8" cy="952.3" r="7.4" fill="url(#gR)"/>
<circle cx="455.1" cy="882.3" r="7.4" fill="url(#gR)"/>
<circle cx="462.3" cy="925.4" r="7.4" fill="url(#gR)"/>
<circle cx="478.5" cy="931.4" r="7.4" fill="url(#gR)"/>
<circle cx="436.2" cy="960.1" r="7.4" fill="url(#gR)"/>
<circle cx="478.9" cy="924.9" r="7.4" fill="url(#gR)"/>
<circle cx="466.3" cy="902.9" r="7.4" fill="url(#gR)"/>
<circle cx="474.2" cy="944.9" r="7.4" fill="url(#gR)"/>
<circle cx="456.0" cy="877.0" r="7.4" fill="url(#gR)"/>
<circle cx="453.2" cy="903.6" r="7.4" fill="url(#gR)"/>
<circle cx="443.4" cy="969.6" r="7.4" fill="url(#gR)"/>
<circle cx="471.6" cy="938.0" r="7.4" fill="url(#gR)"/>
<circle cx="476.3" cy="900.6" r="7.4" fill="url(#gR)"/>
<circle cx="489.4" cy="936.2" r="7.4" fill="url(#gR)"/>
<circle cx="446.2" cy="960.0" r="7.4" fill="url(#gR)"/>
<circle cx="402.6" cy="1020.6" r="7.4" fill="url(#gR)"/>
<circle cx="411.1" cy="1009.3" r="7.4" fill="url(#gR)"/>
<circle cx="476.1" cy="933.3" r="7.4" fill="url(#gR)"/>
<circle cx="476.3" cy="894.0" r="7.4" fill="url(#gR)"/>
<circle cx="459.3" cy="905.6" r="7.4" fill="url(#gR)"/>
<circle cx="435.1" cy="971.7" r="7.4" fill="url(#gR)"/>
<circle cx="437.4" cy="982.4" r="7.4" fill="url(#gR)"/>
<circle cx="483.3" cy="924.1" r="7.4" fill="url(#gR)"/>
<circle cx="465.0" cy="880.0" r="7.4" fill="url(#gR)"/>
<circle cx="469.2" cy="899.7" r="7.4" fill="url(#gR)"/>
<circle cx="466.3" cy="939.4" r="7.4" fill="url(#gR)"/>
<circle cx="451.0" cy="944.0" r="7.4" fill="url(#gR)"/>
<circle cx="432.5" cy="991.3" r="7.4" fill="url(#gR)"/>
<circle cx="491.7" cy="953.0" r="7.4" fill="url(#gR)"/>
<circle cx="448.9" cy="892.4" r="7.4" fill="url(#gR)"/>
<circle cx="482.0" cy="889.3" r="7.4" fill="url(#gR)"/>
<circle cx="414.2" cy="1010.8" r="7.4" fill="url(#gR)"/>
<circle cx="475.3" cy="940.0" r="7.4" fill="url(#gR)"/>
<circle cx="463.7" cy="910.6" r="7.4" fill="url(#gR)"/>
<circle cx="449.9" cy="924.4" r="7.4" fill="url(#gR)"/>
<circle cx="471.5" cy="904.9" r="7.4" fill="url(#gR)"/>
<circle cx="473.1" cy="891.9" r="7.4" fill="url(#gR)"/>
<circle cx="457.8" cy="902.3" r="7.4" fill="url(#gR)"/>
<circle cx="465.5" cy="870.3" r="7.4" fill="url(#gR)"/>
<circle cx="454.6" cy="943.9" r="7.4" fill="url(#gR)"/>
<circle cx="375.8" cy="1032.2" r="7.4" fill="url(#gR)"/>
<circle cx="458.6" cy="884.9" r="7.4" fill="url(#gR)"/>
<circle cx="468.4" cy="915.1" r="7.4" fill="url(#gR)"/>
<circle cx="486.2" cy="933.0" r="7.4" fill="url(#gR)"/>
<circle cx="488.5" cy="904.6" r="7.4" fill="url(#gR)"/>
<circle cx="470.3" cy="946.9" r="7.4" fill="url(#gR)"/>
<circle cx="438.3" cy="950.9" r="7.4" fill="url(#gR)"/>
<circle cx="446.9" cy="927.9" r="7.4" fill="url(#gR)"/>
<circle cx="252.7" cy="1105.3" r="7.4" fill="url(#gR)"/>
<circle cx="264.7" cy="1101.3" r="7.4" fill="url(#gR)"/>
<circle cx="288.0" cy="1094.7" r="7.4" fill="url(#gR)"/>
<circle cx="288.0" cy="1103.3" r="7.4" fill="url(#gR)"/>
<circle cx="309.3" cy="1080.7" r="7.4" fill="url(#gR)"/>
<circle cx="320.0" cy="1084.0" r="7.4" fill="url(#gR)"/>
<circle cx="325.3" cy="1079.3" r="7.4" fill="url(#gR)"/>
<circle cx="329.3" cy="1112.7" r="7.4" fill="url(#gR)"/>
<circle cx="350.7" cy="1066.0" r="7.4" fill="url(#gR)"/>
<circle cx="354.7" cy="1053.3" r="7.4" fill="url(#gR)"/>
<circle cx="366.7" cy="1046.7" r="7.4" fill="url(#gR)"/>
<circle cx="372.0" cy="1054.7" r="7.4" fill="url(#gR)"/>
<circle cx="369.3" cy="1070.7" r="7.4" fill="url(#gR)"/>
<circle cx="368.7" cy="1086.0" r="7.4" fill="url(#gR)"/>
<circle cx="372.7" cy="1029.3" r="7.4" fill="url(#gR)"/>
<circle cx="381.3" cy="1041.3" r="7.4" fill="url(#gR)"/>
<circle cx="385.3" cy="1023.3" r="7.4" fill="url(#gR)"/>
<circle cx="393.3" cy="1021.3" r="7.4" fill="url(#gR)"/>
<circle cx="393.3" cy="1012.0" r="7.4" fill="url(#gR)"/>
<circle cx="402.7" cy="1022.7" r="7.4" fill="url(#gR)"/>
<circle cx="405.3" cy="1026.7" r="7.4" fill="url(#gR)"/>
<circle cx="401.3" cy="1010.7" r="7.4" fill="url(#gR)"/>
<circle cx="409.3" cy="1014.0" r="7.4" fill="url(#gR)"/>
<circle cx="408.7" cy="1062.0" r="7.4" fill="url(#gR)"/>
<circle cx="408.0" cy="998.7" r="7.4" fill="url(#gR)"/>
<circle cx="413.3" cy="985.3" r="7.4" fill="url(#gR)"/>
<circle cx="421.3" cy="982.7" r="7.4" fill="url(#gR)"/>
<circle cx="424.0" cy="996.0" r="7.4" fill="url(#gR)"/>
<circle cx="417.3" cy="1004.0" r="7.4" fill="url(#gR)"/>
<circle cx="421.3" cy="1010.7" r="7.4" fill="url(#gR)"/>
<circle cx="426.7" cy="973.3" r="7.4" fill="url(#gR)"/>
<circle cx="437.3" cy="1025.3" r="7.4" fill="url(#gR)"/>
<circle cx="437.3" cy="1010.7" r="7.4" fill="url(#gR)"/>
<circle cx="439.1" cy="1015.0" r="7.4" fill="url(#gR)"/>
<circle cx="448.8" cy="1015.0" r="7.4" fill="url(#gR)"/>
<circle cx="439.1" cy="1024.7" r="7.4" fill="url(#gR)"/>
<circle cx="479.4" cy="848.6" r="7.4" fill="url(#gR)"/>
<circle cx="451.1" cy="863.1" r="7.4" fill="url(#gR)"/>
</g>
<path d="M253,1110.5 C257.5,1108.1 272.2,1100 280,1096 C287.8,1092 292.9,1090.5 300,1086.5 C307.1,1082.5 315.4,1076.2 322.7,1072 C330,1067.8 335.6,1065.8 344,1061.3 C352.4,1056.8 364.8,1050 373.3,1045.3 C381.8,1040.6 388.4,1037.2 395,1033 C401.6,1028.8 408.5,1025 413,1020 C417.5,1015 419.2,1009.3 422,1003 C424.8,996.7 427.2,989.5 430,982 C432.8,974.5 435.5,966.3 438.5,958 C441.5,949.7 445.2,940.8 448,932 C450.8,923.2 452.8,914.3 455.5,905 C458.2,895.7 461.8,883.5 464.5,876 C467.2,868.5 469.5,864.5 472,860 C474.5,855.5 478.1,850.7 479.3,848.8" fill="none" stroke="#4a5062" stroke-width="3.2" stroke-dasharray="10,6"/>
</g>
<rect x="213.5" y="593.5" width="539.9" height="522.8" fill="none" stroke="#000" stroke-width="2.6"/>
<line x1="208" y1="1114.7" x2="213.5" y2="1114.7" stroke="#000" stroke-width="2.2"/>
<line x1="208" y1="1095.2" x2="213.5" y2="1095.2" stroke="#000" stroke-width="2.2"/>
<line x1="208" y1="1081.3" x2="213.5" y2="1081.3" stroke="#000" stroke-width="2.2"/>
<line x1="208" y1="1070.6" x2="213.5" y2="1070.6" stroke="#000" stroke-width="2.2"/>
<line x1="208" y1="1061.8" x2="213.5" y2="1061.8" stroke="#000" stroke-width="2.2"/>
<line x1="208" y1="1054.4" x2="213.5" y2="1054.4" stroke="#000" stroke-width="2.2"/>
<line x1="208" y1="1047.9" x2="213.5" y2="1047.9" stroke="#000" stroke-width="2.2"/>
<line x1="208" y1="1042.3" x2="213.5" y2="1042.3" stroke="#000" stroke-width="2.2"/>
<line x1="203.5" y1="1037.2" x2="213.5" y2="1037.2" stroke="#000" stroke-width="2.2"/>
<line x1="208" y1="1003.8" x2="213.5" y2="1003.8" stroke="#000" stroke-width="2.2"/>
<line x1="208" y1="984.3" x2="213.5" y2="984.3" stroke="#000" stroke-width="2.2"/>
<line x1="208" y1="970.4" x2="213.5" y2="970.4" stroke="#000" stroke-width="2.2"/>
<line x1="208" y1="959.7" x2="213.5" y2="959.7" stroke="#000" stroke-width="2.2"/>
<line x1="208" y1="950.9" x2="213.5" y2="950.9" stroke="#000" stroke-width="2.2"/>
<line x1="208" y1="943.5" x2="213.5" y2="943.5" stroke="#000" stroke-width="2.2"/>
<line x1="208" y1="937" x2="213.5" y2="937" stroke="#000" stroke-width="2.2"/>
<line x1="208" y1="931.4" x2="213.5" y2="931.4" stroke="#000" stroke-width="2.2"/>
<line x1="203.5" y1="926.3" x2="213.5" y2="926.3" stroke="#000" stroke-width="2.2"/>
<line x1="208" y1="892.9" x2="213.5" y2="892.9" stroke="#000" stroke-width="2.2"/>
<line x1="208" y1="873.4" x2="213.5" y2="873.4" stroke="#000" stroke-width="2.2"/>
<line x1="208" y1="859.5" x2="213.5" y2="859.5" stroke="#000" stroke-width="2.2"/>
<line x1="208" y1="848.8" x2="213.5" y2="848.8" stroke="#000" stroke-width="2.2"/>
<line x1="208" y1="840" x2="213.5" y2="840" stroke="#000" stroke-width="2.2"/>
<line x1="208" y1="832.6" x2="213.5" y2="832.6" stroke="#000" stroke-width="2.2"/>
<line x1="208" y1="826.1" x2="213.5" y2="826.1" stroke="#000" stroke-width="2.2"/>
<line x1="208" y1="820.5" x2="213.5" y2="820.5" stroke="#000" stroke-width="2.2"/>
<line x1="203.5" y1="815.4" x2="213.5" y2="815.4" stroke="#000" stroke-width="2.2"/>
<line x1="208" y1="782" x2="213.5" y2="782" stroke="#000" stroke-width="2.2"/>
<line x1="208" y1="762.5" x2="213.5" y2="762.5" stroke="#000" stroke-width="2.2"/>
<line x1="208" y1="748.6" x2="213.5" y2="748.6" stroke="#000" stroke-width="2.2"/>
<line x1="208" y1="737.9" x2="213.5" y2="737.9" stroke="#000" stroke-width="2.2"/>
<line x1="208" y1="729.1" x2="213.5" y2="729.1" stroke="#000" stroke-width="2.2"/>
<line x1="208" y1="721.7" x2="213.5" y2="721.7" stroke="#000" stroke-width="2.2"/>
<line x1="208" y1="715.2" x2="213.5" y2="715.2" stroke="#000" stroke-width="2.2"/>
<line x1="208" y1="709.6" x2="213.5" y2="709.6" stroke="#000" stroke-width="2.2"/>
<line x1="203.5" y1="704.5" x2="213.5" y2="704.5" stroke="#000" stroke-width="2.2"/>
<line x1="208" y1="671.1" x2="213.5" y2="671.1" stroke="#000" stroke-width="2.2"/>
<line x1="208" y1="651.6" x2="213.5" y2="651.6" stroke="#000" stroke-width="2.2"/>
<line x1="208" y1="637.7" x2="213.5" y2="637.7" stroke="#000" stroke-width="2.2"/>
<line x1="208" y1="627" x2="213.5" y2="627" stroke="#000" stroke-width="2.2"/>
<line x1="208" y1="618.2" x2="213.5" y2="618.2" stroke="#000" stroke-width="2.2"/>
<line x1="208" y1="610.8" x2="213.5" y2="610.8" stroke="#000" stroke-width="2.2"/>
<line x1="208" y1="604.3" x2="213.5" y2="604.3" stroke="#000" stroke-width="2.2"/>
<line x1="208" y1="598.7" x2="213.5" y2="598.7" stroke="#000" stroke-width="2.2"/>
<line x1="203.5" y1="593.6" x2="213.5" y2="593.6" stroke="#000" stroke-width="2.2"/>
<line x1="213.1" y1="1116.3" x2="213.1" y2="1121.8" stroke="#000" stroke-width="2.2"/>
<line x1="237.5" y1="1116.3" x2="237.5" y2="1121.8" stroke="#000" stroke-width="2.2"/>
<line x1="258.7" y1="1116.3" x2="258.7" y2="1121.8" stroke="#000" stroke-width="2.2"/>
<line x1="277.4" y1="1116.3" x2="277.4" y2="1121.8" stroke="#000" stroke-width="2.2"/>
<line x1="294.1" y1="1116.3" x2="294.1" y2="1126.3" stroke="#000" stroke-width="2.2"/>
<line x1="404" y1="1116.3" x2="404" y2="1121.8" stroke="#000" stroke-width="2.2"/>
<line x1="468.3" y1="1116.3" x2="468.3" y2="1121.8" stroke="#000" stroke-width="2.2"/>
<line x1="514" y1="1116.3" x2="514" y2="1121.8" stroke="#000" stroke-width="2.2"/>
<line x1="549.4" y1="1116.3" x2="549.4" y2="1121.8" stroke="#000" stroke-width="2.2"/>
<line x1="578.3" y1="1116.3" x2="578.3" y2="1121.8" stroke="#000" stroke-width="2.2"/>
<line x1="602.7" y1="1116.3" x2="602.7" y2="1121.8" stroke="#000" stroke-width="2.2"/>
<line x1="623.9" y1="1116.3" x2="623.9" y2="1121.8" stroke="#000" stroke-width="2.2"/>
<line x1="642.6" y1="1116.3" x2="642.6" y2="1121.8" stroke="#000" stroke-width="2.2"/>
<line x1="659.3" y1="1116.3" x2="659.3" y2="1126.3" stroke="#000" stroke-width="2.2"/>
<text x="195.5" y="605.4" font-size="38.5" fill="#000" text-anchor="end" font-family="'Liberation Sans', Arial, sans-serif" >100</text>
<text x="195.5" y="716.3" font-size="38.5" fill="#000" text-anchor="end" font-family="'Liberation Sans', Arial, sans-serif" >10</text>
<text x="195.5" y="827.2" font-size="38.5" fill="#000" text-anchor="end" font-family="'Liberation Sans', Arial, sans-serif" >1</text>
<text x="195.5" y="938.1" font-size="38.5" fill="#000" text-anchor="end" font-family="'Liberation Sans', Arial, sans-serif" >0.1</text>
<text x="195.5" y="1049" font-size="38.5" fill="#000" text-anchor="end" font-family="'Liberation Sans', Arial, sans-serif" >0.01</text>
<text x="294.5" y="1162.8" font-size="38.5" fill="#000" text-anchor="middle" font-family="'Liberation Sans', Arial, sans-serif" >10</text>
<text x="660.5" y="1162.8" font-size="38.5" fill="#000" text-anchor="middle" font-family="'Liberation Sans', Arial, sans-serif" >100</text>
<text x="315.5" y="1212.6" font-size="44.5" font-family="'Liberation Sans', Arial, sans-serif">Frequency (cm<tspan font-size="27" dy="-22">-1</tspan><tspan dy="22" dx="1">)</tspan></text>
<text transform="translate(99,863.5) rotate(-90)" x="0" y="0" font-size="44.6" text-anchor="middle" font-family="'Liberation Sans', Arial, sans-serif">Scattering Rate (THz)</text>
<circle cx="251.9" cy="624.6" r="8" fill="url(#gR)"/>
<circle cx="251.9" cy="668.6" r="8" fill="url(#gU)"/>
<text x="292" y="636.7" font-size="36" fill="#000" text-anchor="start" font-family="'Liberation Sans', Arial, sans-serif" >Acoustic</text>
<text x="292" y="680.7" font-size="36" fill="#000" text-anchor="start" font-family="'Liberation Sans', Arial, sans-serif" >Optical</text>
<text x="310.5" y="779.3" font-size="43.5" fill="#4a72b8" text-anchor="start" font-family="'Liberation Sans', Arial, sans-serif" >A-O scattering</text>
<text x="797.5" y="580.5" font-size="58" fill="#000" text-anchor="start" font-family="'Liberation Sans', Arial, sans-serif" >(d)</text>
<path d="M983.3,695 L1021.8,751.2 L1060.3,793.4 L1098.8,826.2 L1137.3,852.4 L1175.8,873.9 L1214.3,891.8 L1252.8,906.9 L1291.3,919.9 L1329.8,931.2 L1368.3,941 L1406.8,949.7 L1445.3,957.4 L1445.3,1058.6 L1406.8,1056.8 L1368.3,1054.9 L1329.8,1052.6 L1291.3,1050 L1252.8,1047.1 L1214.3,1043.6 L1175.8,1039.5 L1137.3,1034.6 L1098.8,1028.6 L1060.3,1021.1 L1021.8,1011.5 L983.3,998.6 Z" fill="url(#gFill)"/>
<path d="M983.3,695 L1021.8,751.2 L1060.3,793.4 L1098.8,826.2 L1137.3,852.4 L1175.8,873.9 L1214.3,891.8 L1252.8,906.9 L1291.3,919.9 L1329.8,931.2 L1368.3,941 L1406.8,949.7 L1445.3,957.4" fill="none" stroke="#14143c" stroke-width="2" stroke-dasharray="14,5"/>
<path d="M983.3,998.6 L1021.8,1011.5 L1060.3,1021.1 L1098.8,1028.6 L1137.3,1034.6 L1175.8,1039.5 L1214.3,1043.6 L1252.8,1047.1 L1291.3,1050 L1329.8,1052.6 L1368.3,1054.9 L1406.8,1056.8 L1445.3,1058.6" fill="none" stroke="#d84050" stroke-width="2.2" stroke-dasharray="7,5"/>
<circle cx="983.3" cy="695" r="11" fill="url(#gN)"/>
<circle cx="1021.8" cy="751.2" r="11" fill="url(#gN)"/>
<circle cx="1060.3" cy="793.4" r="11" fill="url(#gN)"/>
<circle cx="1098.8" cy="826.2" r="11" fill="url(#gN)"/>
<circle cx="1137.3" cy="852.4" r="11" fill="url(#gN)"/>
<circle cx="1175.8" cy="873.9" r="11" fill="url(#gN)"/>
<circle cx="1214.3" cy="891.8" r="11" fill="url(#gN)"/>
<circle cx="1252.8" cy="906.9" r="11" fill="url(#gN)"/>
<circle cx="1291.3" cy="919.9" r="11" fill="url(#gN)"/>
<circle cx="1329.8" cy="931.2" r="11" fill="url(#gN)"/>
<circle cx="1368.3" cy="941" r="11" fill="url(#gN)"/>
<circle cx="1406.8" cy="949.7" r="11" fill="url(#gN)"/>
<circle cx="1445.3" cy="957.4" r="11" fill="url(#gN)"/>
<circle cx="983.3" cy="998.6" r="10.5" fill="url(#gP)"/>
<circle cx="1021.8" cy="1011.5" r="10.5" fill="url(#gP)"/>
<circle cx="1060.3" cy="1021.1" r="10.5" fill="url(#gP)"/>
<circle cx="1098.8" cy="1028.6" r="10.5" fill="url(#gP)"/>
<circle cx="1137.3" cy="1034.6" r="10.5" fill="url(#gP)"/>
<circle cx="1175.8" cy="1039.5" r="10.5" fill="url(#gP)"/>
<circle cx="1214.3" cy="1043.6" r="10.5" fill="url(#gP)"/>
<circle cx="1252.8" cy="1047.1" r="10.5" fill="url(#gP)"/>
<circle cx="1291.3" cy="1050" r="10.5" fill="url(#gP)"/>
<circle cx="1329.8" cy="1052.6" r="10.5" fill="url(#gP)"/>
<circle cx="1368.3" cy="1054.9" r="10.5" fill="url(#gP)"/>
<circle cx="1406.8" cy="1056.8" r="10.5" fill="url(#gP)"/>
<circle cx="1445.3" cy="1058.6" r="10.5" fill="url(#gP)"/>
<rect x="946" y="593.6" width="536.9" height="519.4" fill="none" stroke="#000" stroke-width="2.6"/>
<line x1="936.5" y1="1088.6" x2="946" y2="1088.6" stroke="#000" stroke-width="2.2"/>
<line x1="1473.4" y1="1088.6" x2="1482.9" y2="1088.6" stroke="#000" stroke-width="2.2"/>
<line x1="940.5" y1="1039.1" x2="946" y2="1039.1" stroke="#000" stroke-width="2.2"/>
<line x1="1477.4" y1="1039.1" x2="1482.9" y2="1039.1" stroke="#000" stroke-width="2.2"/>
<line x1="936.5" y1="989.7" x2="946" y2="989.7" stroke="#000" stroke-width="2.2"/>
<line x1="1473.4" y1="989.7" x2="1482.9" y2="989.7" stroke="#000" stroke-width="2.2"/>
<line x1="940.5" y1="940.2" x2="946" y2="940.2" stroke="#000" stroke-width="2.2"/>
<line x1="1477.4" y1="940.2" x2="1482.9" y2="940.2" stroke="#000" stroke-width="2.2"/>
<line x1="936.5" y1="890.8" x2="946" y2="890.8" stroke="#000" stroke-width="2.2"/>
<line x1="1473.4" y1="890.8" x2="1482.9" y2="890.8" stroke="#000" stroke-width="2.2"/>
<line x1="940.5" y1="841.3" x2="946" y2="841.3" stroke="#000" stroke-width="2.2"/>
<line x1="1477.4" y1="841.3" x2="1482.9" y2="841.3" stroke="#000" stroke-width="2.2"/>
<line x1="936.5" y1="791.9" x2="946" y2="791.9" stroke="#000" stroke-width="2.2"/>
<line x1="1473.4" y1="791.9" x2="1482.9" y2="791.9" stroke="#000" stroke-width="2.2"/>
<line x1="940.5" y1="742.4" x2="946" y2="742.4" stroke="#000" stroke-width="2.2"/>
<line x1="1477.4" y1="742.4" x2="1482.9" y2="742.4" stroke="#000" stroke-width="2.2"/>
<line x1="936.5" y1="693" x2="946" y2="693" stroke="#000" stroke-width="2.2"/>
<line x1="1473.4" y1="693" x2="1482.9" y2="693" stroke="#000" stroke-width="2.2"/>
<line x1="940.5" y1="643.5" x2="946" y2="643.5" stroke="#000" stroke-width="2.2"/>
<line x1="1477.4" y1="643.5" x2="1482.9" y2="643.5" stroke="#000" stroke-width="2.2"/>
<line x1="936.5" y1="594.1" x2="946" y2="594.1" stroke="#000" stroke-width="2.2"/>
<line x1="1473.4" y1="594.1" x2="1482.9" y2="594.1" stroke="#000" stroke-width="2.2"/>
<line x1="983.3" y1="1113" x2="983.3" y2="1122.5" stroke="#000" stroke-width="2.2"/>
<line x1="983.3" y1="593.6" x2="983.3" y2="603.1" stroke="#000" stroke-width="2.2"/>
<line x1="1041" y1="1113" x2="1041" y2="1118.5" stroke="#000" stroke-width="2.2"/>
<line x1="1041" y1="593.6" x2="1041" y2="599.1" stroke="#000" stroke-width="2.2"/>
<line x1="1098.8" y1="1113" x2="1098.8" y2="1122.5" stroke="#000" stroke-width="2.2"/>
<line x1="1098.8" y1="593.6" x2="1098.8" y2="603.1" stroke="#000" stroke-width="2.2"/>
<line x1="1156.5" y1="1113" x2="1156.5" y2="1118.5" stroke="#000" stroke-width="2.2"/>
<line x1="1156.5" y1="593.6" x2="1156.5" y2="599.1" stroke="#000" stroke-width="2.2"/>
<line x1="1214.3" y1="1113" x2="1214.3" y2="1122.5" stroke="#000" stroke-width="2.2"/>
<line x1="1214.3" y1="593.6" x2="1214.3" y2="603.1" stroke="#000" stroke-width="2.2"/>
<line x1="1272" y1="1113" x2="1272" y2="1118.5" stroke="#000" stroke-width="2.2"/>
<line x1="1272" y1="593.6" x2="1272" y2="599.1" stroke="#000" stroke-width="2.2"/>
<line x1="1329.8" y1="1113" x2="1329.8" y2="1122.5" stroke="#000" stroke-width="2.2"/>
<line x1="1329.8" y1="593.6" x2="1329.8" y2="603.1" stroke="#000" stroke-width="2.2"/>
<line x1="1387.5" y1="1113" x2="1387.5" y2="1118.5" stroke="#000" stroke-width="2.2"/>
<line x1="1387.5" y1="593.6" x2="1387.5" y2="599.1" stroke="#000" stroke-width="2.2"/>
<line x1="1445.3" y1="1113" x2="1445.3" y2="1122.5" stroke="#000" stroke-width="2.2"/>
<line x1="1445.3" y1="593.6" x2="1445.3" y2="603.1" stroke="#000" stroke-width="2.2"/>
<text x="929.5" y="1098.2" font-size="39.5" fill="#000" text-anchor="end" font-family="'Liberation Sans', Arial, sans-serif" >0</text>
<text x="929.5" y="999.3" font-size="39.5" fill="#000" text-anchor="end" font-family="'Liberation Sans', Arial, sans-serif" >2</text>
<text x="929.5" y="900.4" font-size="39.5" fill="#000" text-anchor="end" font-family="'Liberation Sans', Arial, sans-serif" >4</text>
<text x="929.5" y="801.5" font-size="39.5" fill="#000" text-anchor="end" font-family="'Liberation Sans', Arial, sans-serif" >6</text>
<text x="929.5" y="702.6" font-size="39.5" fill="#000" text-anchor="end" font-family="'Liberation Sans', Arial, sans-serif" >8</text>
<text x="929.5" y="603.7" font-size="39.5" fill="#000" text-anchor="end" font-family="'Liberation Sans', Arial, sans-serif" >10</text>
<text x="984" y="1160.5" font-size="39.5" fill="#000" text-anchor="middle" font-family="'Liberation Sans', Arial, sans-serif" >300</text>
<text x="1099.5" y="1160.5" font-size="39.5" fill="#000" text-anchor="middle" font-family="'Liberation Sans', Arial, sans-serif" >450</text>
<text x="1215" y="1160.5" font-size="39.5" fill="#000" text-anchor="middle" font-family="'Liberation Sans', Arial, sans-serif" >600</text>
<text x="1330.5" y="1160.5" font-size="39.5" fill="#000" text-anchor="middle" font-family="'Liberation Sans', Arial, sans-serif" >750</text>
<text x="1446" y="1160.5" font-size="39.5" fill="#000" text-anchor="middle" font-family="'Liberation Sans', Arial, sans-serif" >900</text>
<text x="1208.5" y="1210.5" font-size="45" fill="#000" text-anchor="middle" font-family="'Liberation Sans', Arial, sans-serif" >T (K)</text>
<text transform="translate(876.5,968.5) rotate(-90)" x="0" y="0" font-size="44.6" font-family="'Liberation Sans', Arial, sans-serif"><tspan font-family="'Liberation Serif', 'Times New Roman', serif" font-style="italic" font-size="50">&#954;</tspan><tspan font-size="26.5" dy="15" dx="-1.3">L</tspan><tspan dy="-15" dx="-1.3"> (Wm</tspan><tspan font-size="26.5" dy="-22.5">-1</tspan><tspan dy="22.5">K</tspan><tspan font-size="26.5" dy="-22.5">-1</tspan><tspan dy="22.5">)</tspan></text>
<line x1="1169" y1="641.7" x2="1250" y2="641.7" stroke="#14148a" stroke-width="2"/>
<circle cx="1209.4" cy="641.7" r="11" fill="url(#gN)"/>
<line x1="1169" y1="684.8" x2="1250" y2="684.8" stroke="#e05060" stroke-width="2"/>
<circle cx="1209.4" cy="684.8" r="10.5" fill="url(#gP)"/>
<text x="1258" y="653.3" font-size="35.7" fill="#000" text-anchor="start" font-family="'Liberation Sans', Arial, sans-serif" >Centered</text>
<text x="1258" y="696.3" font-size="35.7" fill="#000" text-anchor="start" font-family="'Liberation Sans', Arial, sans-serif" >Off-centered</text>
<text x="1179.5" y="967.9" font-size="43.3" fill="#4a72b8" text-anchor="middle" font-family="'Liberation Sans', Arial, sans-serif" >Off-centering</text>
<text x="1181" y="1009" font-size="43.3" fill="#4a72b8" text-anchor="middle" font-family="'Liberation Sans', Arial, sans-serif" >effect</text>
</svg>
</body></html>
